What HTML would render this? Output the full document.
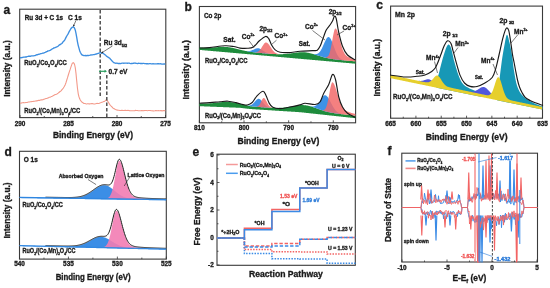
<!DOCTYPE html>
<html><head><meta charset="utf-8"><style>
html,body{margin:0;padding:0;background:#fff;}
body{width:550px;height:288px;overflow:hidden;}
svg{display:block;will-change:transform;font-family:"Liberation Sans",sans-serif;}
</style></head><body>
<svg width="550" height="288" viewBox="0 0 550 288">
<rect width="550" height="288" fill="#fff"/>
<text x="3.5" y="14" font-size="12" text-anchor="start" font-weight="bold" fill="#1a1a1a" stroke="#1a1a1a" stroke-width="0.32" >a</text>
<rect x="19.7" y="9.2" width="146.10000000000002" height="108.39999999999999" fill="none" stroke="#3a3a3a" stroke-width="1.1"/>
<line x1="20.0" y1="117.5" x2="20.0" y2="115.0" stroke="#333" stroke-width="0.8" />
<text x="20.0" y="125.8" font-size="6.4" text-anchor="middle" font-weight="bold" fill="#1a1a1a" stroke="#1a1a1a" stroke-width="0.32" >290</text>
<line x1="44.25" y1="117.5" x2="44.25" y2="116.0" stroke="#333" stroke-width="0.8" />
<line x1="68.5" y1="117.5" x2="68.5" y2="115.0" stroke="#333" stroke-width="0.8" />
<text x="68.5" y="125.8" font-size="6.4" text-anchor="middle" font-weight="bold" fill="#1a1a1a" stroke="#1a1a1a" stroke-width="0.32" >285</text>
<line x1="92.75" y1="117.5" x2="92.75" y2="116.0" stroke="#333" stroke-width="0.8" />
<line x1="117.0" y1="117.5" x2="117.0" y2="115.0" stroke="#333" stroke-width="0.8" />
<text x="117.0" y="125.8" font-size="6.4" text-anchor="middle" font-weight="bold" fill="#1a1a1a" stroke="#1a1a1a" stroke-width="0.32" >280</text>
<line x1="141.25" y1="117.5" x2="141.25" y2="116.0" stroke="#333" stroke-width="0.8" />
<line x1="165.5" y1="117.5" x2="165.5" y2="115.0" stroke="#333" stroke-width="0.8" />
<text x="165.5" y="125.8" font-size="6.4" text-anchor="middle" font-weight="bold" fill="#1a1a1a" stroke="#1a1a1a" stroke-width="0.32" >275</text>
<text x="53" y="138.2" font-size="8.4" text-anchor="start" font-weight="bold" fill="#1a1a1a" stroke="#1a1a1a" stroke-width="0.32" textLength="80" lengthAdjust="spacingAndGlyphs" >Binding Energy (eV)</text>
<text transform="translate(10.1,68.55) rotate(-90)" x="0" y="0" font-size="8.6" text-anchor="middle" font-weight="bold" fill="#1a1a1a" stroke="#1a1a1a" stroke-width="0.32" textLength="56.5" lengthAdjust="spacingAndGlyphs">Intensity (a.u.)</text>
<text x="24.8" y="19.5" font-size="6.4" text-anchor="start" font-weight="bold" fill="#1a1a1a" stroke="#1a1a1a" stroke-width="0.32" textLength="38.2" lengthAdjust="spacingAndGlyphs" >Ru 3d + C 1s</text>
<text x="68" y="19.5" font-size="6.4" text-anchor="start" font-weight="bold" fill="#1a1a1a" stroke="#1a1a1a" stroke-width="0.32" textLength="13.8" lengthAdjust="spacingAndGlyphs" >C 1s</text>
<line x1="75.8" y1="20.8" x2="73.2" y2="26.8" stroke="#222" stroke-width="0.6" />
<path d="M73.20,26.80 L73.11,24.60 L74.87,25.36 Z" stroke="none" fill="#222" stroke-width="1.0" />
<path d="M20.00,57.78 L20.43,57.74 L20.94,57.84 L21.52,57.64 L22.16,57.50 L22.86,57.41 L23.60,57.12 L24.39,57.07 L25.22,57.02 L26.08,57.01 L26.97,56.61 L27.89,56.44 L28.81,56.18 L29.75,56.29 L30.69,56.22 L31.63,55.81 L32.56,55.95 L33.47,55.93 L34.37,55.69 L35.24,55.48 L36.08,55.08 L36.88,54.74 L37.64,54.71 L38.35,54.41 L39.00,54.23 L40.04,53.96 L41.02,53.58 L41.94,53.42 L42.81,53.17 L43.64,53.06 L44.43,52.69 L45.19,52.38 L45.92,52.00 L46.62,51.72 L47.31,51.31 L47.99,50.87 L48.66,50.81 L49.33,50.62 L50.00,50.31 L50.85,49.87 L51.67,49.30 L52.45,48.80 L53.22,48.41 L53.96,47.94 L54.67,47.84 L55.37,47.46 L56.05,47.28 L56.71,46.80 L57.36,46.61 L58.00,46.26 L58.84,45.36 L59.63,44.76 L60.38,44.51 L61.09,43.91 L61.79,43.52 L62.49,42.70 L63.19,41.71 L63.90,40.98 L64.64,40.06 L65.40,38.66 L66.16,37.13 L66.92,35.75 L67.65,34.63 L68.36,33.36 L69.01,31.90 L69.60,30.84 L70.41,29.48 L71.09,28.38 L71.69,27.90 L72.24,27.26 L72.80,27.15 L73.46,27.16 L74.07,27.40 L74.66,28.53 L75.30,30.15 L76.00,33.41 L76.73,37.41 L77.47,41.80 L78.20,45.31 L78.90,47.95 L79.59,50.44 L80.29,52.28 L81.00,53.51 L81.61,54.66 L82.14,54.99 L82.86,55.25 L84.00,55.63 L84.57,55.68 L85.22,55.47 L85.94,55.75 L86.72,55.53 L87.54,55.40 L88.38,55.54 L89.24,55.36 L90.09,55.21 L90.93,54.98 L91.74,54.81 L92.50,54.88 L93.32,54.66 L94.15,54.57 L94.99,54.28 L95.82,54.02 L96.64,53.97 L97.44,53.60 L98.20,53.34 L98.92,53.25 L99.59,52.85 L100.20,52.62 L101.18,52.87 L101.91,53.07 L102.53,53.10 L103.18,53.35 L104.00,54.03 L104.64,54.63 L105.35,54.89 L106.10,55.69 L106.88,56.38 L107.65,56.93 L108.40,57.44 L109.09,57.82 L109.70,58.22 L110.52,59.33 L111.21,59.91 L111.82,60.72 L112.40,61.19 L113.00,61.90 L113.51,62.43 L113.83,62.71 L114.48,62.90 L116.00,63.31 L116.50,63.15 L117.06,63.15 L117.66,63.30 L118.31,63.52 L119.01,63.51 L119.74,63.36 L120.51,63.57 L121.30,63.34 L122.12,63.14 L122.97,63.14 L123.83,63.22 L124.70,63.07 L125.59,63.05 L126.48,63.12 L127.37,63.24 L128.25,63.10 L129.13,63.14 L130.00,63.40 L130.71,63.57 L131.43,63.51 L132.16,63.50 L132.89,63.45 L133.63,63.23 L134.38,63.08 L135.14,63.00 L135.91,63.36 L136.68,63.45 L137.45,63.62 L138.23,63.29 L139.02,63.40 L139.80,63.39 L140.60,63.51 L141.39,63.39 L142.19,63.64 L142.99,63.35 L143.79,63.43 L144.59,63.56 L145.39,63.70 L146.20,63.71 L147.00,63.70 L147.79,63.75 L148.61,63.83 L149.46,63.63 L150.33,63.69 L151.23,63.82 L152.14,63.89 L153.06,63.73 L153.99,63.82 L154.92,63.92 L155.84,63.84 L156.76,63.84 L157.66,63.74 L158.54,63.79 L159.41,63.83 L160.24,63.63 L161.04,63.79 L161.80,64.03 L162.52,64.11 L163.19,64.09 L163.81,63.94 L164.37,64.02 L164.87,64.00 L165.30,63.93" stroke="#3d8ee0" fill="none" stroke-width="1.35" stroke-linejoin="round"/>
<path d="M20.00,103.29 L20.42,103.29 L20.91,103.26 L21.46,102.99 L22.07,102.76 L22.72,102.74 L23.43,102.64 L24.18,102.75 L24.96,102.70 L25.78,102.58 L26.63,102.44 L27.50,102.35 L28.39,102.04 L29.29,101.93 L30.21,101.70 L31.12,101.81 L32.04,101.46 L32.95,101.52 L33.85,101.18 L34.73,101.19 L35.60,100.98 L36.44,100.83 L37.25,100.86 L38.02,100.48 L38.76,100.23 L39.45,100.38 L40.10,100.22 L41.08,99.83 L42.00,99.89 L42.88,99.80 L43.71,99.32 L44.51,99.10 L45.27,98.77 L46.00,98.57 L46.71,98.47 L47.41,98.12 L48.09,98.04 L48.76,97.60 L49.43,97.28 L50.11,97.23 L50.79,96.87 L51.49,96.51 L52.20,96.21 L53.04,95.77 L53.88,95.29 L54.74,94.69 L55.59,94.43 L56.45,94.15 L57.29,93.76 L58.13,93.17 L58.95,92.46 L59.75,91.79 L60.53,91.26 L61.28,90.63 L61.99,89.70 L62.67,88.88 L63.30,88.07 L64.31,86.46 L65.22,84.65 L66.04,82.46 L66.78,80.00 L67.46,77.95 L68.10,75.73 L68.71,73.74 L69.30,71.89 L70.16,69.43 L70.89,67.12 L71.52,65.31 L72.11,63.66 L72.70,62.96 L73.40,62.62 L74.02,63.30 L74.64,64.75 L75.30,67.82 L76.00,73.33 L76.71,80.88 L77.46,88.24 L78.30,94.09 L78.90,96.50 L79.51,98.31 L80.16,99.69 L80.85,100.89 L81.59,101.60 L82.40,102.51 L83.03,102.80 L83.67,103.36 L84.33,103.50 L85.02,103.53 L85.77,103.79 L86.57,103.99 L87.44,103.75 L88.40,103.76 L89.05,103.97 L89.77,103.90 L90.53,103.82 L91.34,103.67 L92.17,103.58 L93.02,103.75 L93.88,103.94 L94.73,104.01 L95.56,103.80 L96.37,103.46 L97.13,103.36 L97.85,103.45 L98.50,103.46 L99.47,103.24 L100.37,102.81 L101.21,102.56 L101.98,102.26 L102.69,102.02 L103.35,101.61 L103.95,101.56 L104.50,101.43 L105.33,100.70 L105.85,100.14 L106.30,100.08 L106.90,100.16 L107.54,101.04 L108.23,102.04 L108.97,103.33 L109.73,104.60 L110.50,105.46 L111.14,106.11 L111.78,106.73 L112.44,107.50 L113.12,108.15 L113.84,108.46 L114.60,109.10 L115.18,109.32 L115.62,109.44 L116.06,109.64 L116.60,110.02 L117.36,110.08 L118.45,110.19 L120.00,110.42 L120.51,110.52 L121.05,110.51 L121.62,110.38 L122.22,110.39 L122.85,110.53 L123.51,110.57 L124.19,110.51 L124.90,110.40 L125.64,110.36 L126.39,110.49 L127.16,110.50 L127.95,110.29 L128.76,110.47 L129.58,110.64 L130.41,110.69 L131.26,110.76 L132.11,110.80 L132.98,110.68 L133.85,110.72 L134.72,110.59 L135.60,110.41 L136.48,110.43 L137.37,110.43 L138.25,110.68 L139.13,110.72 L140.00,110.68 L140.72,110.70 L141.48,110.51 L142.27,110.59 L143.08,110.70 L143.92,110.63 L144.78,110.55 L145.65,110.57 L146.55,110.55 L147.45,110.69 L148.36,110.55 L149.29,110.46 L150.21,110.51 L151.14,110.69 L152.06,110.81 L152.99,110.83 L153.90,110.95 L154.80,110.79 L155.70,110.58 L156.57,110.66 L157.43,110.68 L158.27,110.59 L159.08,110.75 L159.87,110.69 L160.63,110.63 L161.36,110.63 L162.05,110.89 L162.70,110.64 L163.31,110.66 L163.88,110.64 L164.40,110.60 L164.88,110.67 L165.30,110.63" stroke="#f39a8a" fill="none" stroke-width="1.1" stroke-linejoin="round"/>
<text x="24.2" y="65.4" font-size="6.8" text-anchor="start" font-weight="bold" fill="#1a1a1a" stroke="#1a1a1a" stroke-width="0.32" textLength="42.6" lengthAdjust="spacingAndGlyphs" >RuO<tspan font-size="4.08" dy="1.9">2</tspan><tspan dy="-1.9">​</tspan>/Co<tspan font-size="4.08" dy="1.9">3</tspan><tspan dy="-1.9">​</tspan>O<tspan font-size="4.08" dy="1.9">4</tspan><tspan dy="-1.9">​</tspan>/CC</text>
<text x="24.2" y="112.6" font-size="6.8" text-anchor="start" font-weight="bold" fill="#1a1a1a" stroke="#1a1a1a" stroke-width="0.32" textLength="56" lengthAdjust="spacingAndGlyphs" >RuO<tspan font-size="4.08" dy="1.9">2</tspan><tspan dy="-1.9">​</tspan>/(Co,Mn)<tspan font-size="4.08" dy="1.9">3</tspan><tspan dy="-1.9">​</tspan>O<tspan font-size="4.08" dy="1.9">4</tspan><tspan dy="-1.9">​</tspan>/CC</text>
<line x1="100.2" y1="10" x2="100.2" y2="96" stroke="#444" stroke-width="1.4" stroke-dasharray="3.5,2"/>
<line x1="106.8" y1="75" x2="106.8" y2="117" stroke="#444" stroke-width="1.4" stroke-dasharray="3.5,2"/>
<text x="103.7" y="45.2" font-size="7.0" text-anchor="start" font-weight="bold" fill="#1a1a1a" stroke="#1a1a1a" stroke-width="0.32" textLength="23.5" lengthAdjust="spacingAndGlyphs" >Ru 3d<tspan font-size="4.2" dy="1.8">5/2</tspan></text>
<line x1="112.4" y1="46" x2="101.2" y2="53.2" stroke="#222" stroke-width="0.6" />
<path d="M101.20,53.20 L102.35,51.32 L103.38,52.93 Z" stroke="none" fill="#222" stroke-width="1.0" />
<line x1="99" y1="71.3" x2="106" y2="71.3" stroke="#2aa060" stroke-width="1.2"/>
<path d="M107.00,71.30 L104.50,69.80 L104.50,72.80 Z" stroke="none" fill="#2aa060" stroke-width="1.0" />
<text x="108.5" y="73.6" font-size="6.9" text-anchor="start" font-weight="bold" fill="#1a1a1a" stroke="#1a1a1a" stroke-width="0.32" textLength="19" lengthAdjust="spacingAndGlyphs" >0.7 eV</text>
<text x="184.6" y="11.2" font-size="12" text-anchor="start" font-weight="bold" fill="#1a1a1a" stroke="#1a1a1a" stroke-width="0.32" >b</text>
<rect x="199.4" y="6.5" width="156.20000000000002" height="116.3" fill="none" stroke="#3a3a3a" stroke-width="1.1"/>
<line x1="199.4" y1="122.8" x2="199.4" y2="120.3" stroke="#333" stroke-width="0.8" />
<text x="199.4" y="130.4" font-size="6.4" text-anchor="middle" font-weight="bold" fill="#1a1a1a" stroke="#1a1a1a" stroke-width="0.32" >810</text>
<line x1="244.02857142857144" y1="122.8" x2="244.02857142857144" y2="120.3" stroke="#333" stroke-width="0.8" />
<text x="244.03" y="130.4" font-size="6.4" text-anchor="middle" font-weight="bold" fill="#1a1a1a" stroke="#1a1a1a" stroke-width="0.32" >800</text>
<line x1="288.65714285714284" y1="122.8" x2="288.65714285714284" y2="120.3" stroke="#333" stroke-width="0.8" />
<text x="288.66" y="130.4" font-size="6.4" text-anchor="middle" font-weight="bold" fill="#1a1a1a" stroke="#1a1a1a" stroke-width="0.32" >790</text>
<line x1="333.28571428571433" y1="122.8" x2="333.28571428571433" y2="120.3" stroke="#333" stroke-width="0.8" />
<text x="333.29" y="130.4" font-size="6.4" text-anchor="middle" font-weight="bold" fill="#1a1a1a" stroke="#1a1a1a" stroke-width="0.32" >780</text>
<line x1="221.71428571428572" y1="122.8" x2="221.71428571428572" y2="121.3" stroke="#333" stroke-width="0.8" />
<line x1="266.34285714285716" y1="122.8" x2="266.34285714285716" y2="121.3" stroke="#333" stroke-width="0.8" />
<line x1="310.9714285714286" y1="122.8" x2="310.9714285714286" y2="121.3" stroke="#333" stroke-width="0.8" />
<text x="237.5" y="143.5" font-size="8.5" text-anchor="start" font-weight="bold" fill="#1a1a1a" stroke="#1a1a1a" stroke-width="0.32" textLength="81.8" lengthAdjust="spacingAndGlyphs" >Binding Energy (eV)</text>
<text transform="translate(189.3,69.8) rotate(-90)" x="0" y="0" font-size="8.8" text-anchor="middle" font-weight="bold" fill="#1a1a1a" stroke="#1a1a1a" stroke-width="0.32" textLength="59.4" lengthAdjust="spacingAndGlyphs">Intensity (a.u.)</text>
<text x="203.9" y="17.8" font-size="7.2" text-anchor="start" font-weight="bold" fill="#1a1a1a" stroke="#1a1a1a" stroke-width="0.32" textLength="17.6" lengthAdjust="spacingAndGlyphs" >Co 2p</text>
<path d="M199.40,49.90 L199.90,49.94 L200.40,49.98 L200.90,50.02 L201.40,50.07 L201.90,50.11 L202.40,50.16 L202.90,50.20 L203.40,50.24 L203.90,50.29 L204.40,50.33 L204.90,50.38 L205.40,50.42 L205.90,50.47 L206.40,50.51 L206.90,50.55 L207.40,50.60 L207.90,50.64 L208.40,50.69 L208.90,50.73 L209.40,50.78 L209.90,50.82 L210.40,50.86 L210.90,50.91 L211.40,50.95 L211.90,51.00 L212.40,51.04 L212.90,51.09 L213.40,51.13 L213.90,51.17 L214.40,51.22 L214.90,51.26 L215.40,51.31 L215.90,51.35 L216.40,51.39 L216.90,51.44 L217.40,51.48 L217.90,51.53 L218.40,51.57 L218.90,51.62 L219.40,51.66 L219.90,51.70 L220.40,51.75 L220.90,51.79 L221.40,51.84 L221.90,51.88 L222.40,51.93 L222.90,51.97 L223.40,52.01 L223.90,52.06 L224.40,52.10 L224.90,52.15 L225.40,52.19 L225.90,52.24 L226.40,52.28 L226.90,52.32 L227.40,52.37 L227.90,52.41 L228.40,52.46 L228.90,52.50 L229.40,52.55 L229.90,52.59 L230.40,52.63 L230.90,52.68 L231.40,52.72 L231.90,52.77 L232.40,52.81 L232.90,52.85 L233.40,52.90 L233.90,52.94 L234.40,52.99 L234.90,53.03 L235.40,53.08 L235.90,53.12 L236.40,53.16 L236.90,53.21 L237.40,53.25 L237.90,53.30 L238.40,53.34 L238.90,53.39 L239.40,53.43 L239.90,53.47 L240.40,53.52 L240.90,53.56 L241.40,53.61 L241.90,53.65 L242.40,53.70 L242.90,53.74 L243.40,53.78 L243.90,53.83 L244.40,53.87 L244.90,53.92 L245.40,53.96 L245.90,54.00 L246.40,54.05 L246.90,54.09 L247.40,54.14 L247.90,54.18 L248.40,54.23 L248.90,54.27 L249.40,54.31 L249.90,54.36 L250.40,54.40 L250.90,54.45 L251.40,54.49 L251.90,54.54 L252.40,54.58 L252.90,54.62 L253.40,54.67 L253.90,54.71 L254.40,54.76 L254.90,54.80 L255.40,54.84 L255.90,54.89 L256.40,54.93 L256.90,54.98 L257.40,55.02 L257.90,55.07 L258.40,55.11 L258.90,55.15 L259.40,55.20 L259.90,55.24 L260.40,55.29 L260.90,55.33 L261.40,55.38 L261.90,55.42 L262.40,55.46 L262.90,55.51 L263.40,55.55 L263.90,55.60 L264.40,55.64 L264.90,55.69 L265.40,55.73 L265.90,55.77 L266.40,55.82 L266.90,55.86 L267.40,55.91 L267.90,55.95 L268.40,55.99 L268.90,56.04 L269.40,56.08 L269.90,56.13 L270.40,56.17 L270.90,56.22 L271.40,56.26 L271.90,56.30 L272.40,56.35 L272.90,56.39 L273.40,56.44 L273.90,56.48 L274.40,56.53 L274.90,56.57 L275.40,56.61 L275.90,56.66 L276.40,56.70 L276.90,56.75 L277.40,56.79 L277.90,56.84 L278.40,56.88 L278.90,56.92 L279.40,56.97 L279.90,57.01 L280.40,57.06 L280.90,57.10 L281.40,57.14 L281.90,57.19 L282.40,57.23 L282.90,57.28 L283.40,57.32 L283.90,57.37 L284.40,57.41 L284.90,57.45 L285.40,57.50 L285.90,57.54 L286.40,57.59 L286.90,57.63 L287.40,57.68 L287.90,57.72 L288.40,57.76 L288.90,57.81 L289.40,57.85 L289.90,57.90 L290.40,57.94 L290.90,57.99 L291.40,58.03 L291.90,58.07 L292.40,58.12 L292.90,58.16 L293.40,58.21 L293.90,58.25 L294.40,58.30 L294.90,58.34 L295.40,58.38 L295.90,58.43 L296.40,58.47 L296.90,58.52 L297.40,58.56 L297.90,58.60 L298.40,58.65 L298.90,58.69 L299.40,58.74 L299.90,58.78 L300.40,58.83 L300.90,58.87 L301.40,58.91 L301.90,58.96 L302.40,59.00 L302.90,59.05 L303.40,59.09 L303.90,59.14 L304.40,59.18 L304.90,59.22 L305.40,59.27 L305.90,59.31 L306.40,59.36 L306.90,59.40 L307.40,59.45 L307.90,59.49 L308.40,59.53 L308.90,59.58 L309.40,59.62 L309.90,59.67 L310.40,59.71 L310.90,59.75 L311.40,59.80 L311.90,59.84 L312.40,59.89 L312.90,59.93 L313.40,59.98 L313.90,60.02 L314.40,60.06 L314.90,60.11 L315.40,60.15 L315.90,60.20 L316.40,60.24 L316.90,60.29 L317.40,60.33 L317.90,60.37 L318.40,60.42 L318.90,60.46 L319.40,60.51 L319.90,60.55 L320.40,60.59 L320.90,60.64 L321.40,60.68 L321.90,60.73 L322.40,60.77 L322.90,60.82 L323.40,60.86 L323.90,60.90 L324.40,60.95 L324.90,60.99 L325.40,61.04 L325.90,61.08 L326.40,61.13 L326.90,61.17 L327.40,61.21 L327.90,61.26 L328.40,61.30 L328.90,61.35 L329.40,61.39 L329.90,61.44 L330.40,61.48 L330.90,61.52 L331.40,61.57 L331.90,61.61 L332.40,61.66 L332.90,61.70 L333.40,61.74 L333.90,61.79 L334.40,61.83 L334.90,61.88 L335.40,61.92 L335.90,61.97 L336.40,62.01 L336.90,62.05 L337.40,62.10 L337.90,62.14 L338.40,62.19 L338.90,62.23 L339.40,62.28 L339.90,62.32 L340.40,62.36 L340.90,62.41 L341.40,62.45 L341.90,62.50 L342.40,62.54 L342.90,62.59 L343.40,62.63 L343.90,62.67 L344.40,62.72 L344.90,62.76 L345.40,62.81 L345.90,62.85 L346.40,62.89 L346.90,62.94 L347.40,62.98 L347.90,63.03 L348.40,63.07 L348.90,63.12 L349.40,63.16 L349.90,63.20 L350.40,63.25 L350.90,63.29 L351.40,63.34 L351.90,63.38 L352.40,63.43 L352.90,63.47 L353.40,63.51 L353.90,63.56 L354.40,63.60 L354.90,63.65 L355.40,63.69 L355.40,61.39 L354.90,61.35 L354.40,61.30 L353.90,61.26 L353.40,61.21 L352.90,61.17 L352.40,61.12 L351.90,61.08 L351.40,61.03 L350.90,60.99 L350.40,60.95 L349.90,60.90 L349.40,60.86 L348.90,60.81 L348.40,60.77 L347.90,60.72 L347.40,60.67 L346.90,60.63 L346.40,60.58 L345.90,60.54 L345.40,60.49 L344.90,60.44 L344.40,60.40 L343.90,60.35 L343.40,60.30 L342.90,60.25 L342.40,60.21 L341.90,60.16 L341.40,60.11 L340.90,60.06 L340.40,60.00 L339.90,59.95 L339.40,59.90 L338.90,59.85 L338.40,59.79 L337.90,59.74 L337.40,59.68 L336.90,59.62 L336.40,59.56 L335.90,59.50 L335.40,59.44 L334.90,59.37 L334.40,59.30 L333.90,59.24 L333.40,59.17 L332.90,59.09 L332.40,59.02 L331.90,58.94 L331.40,58.86 L330.90,58.78 L330.40,58.69 L329.90,58.60 L329.40,58.51 L328.90,58.41 L328.40,58.32 L327.90,58.21 L327.40,58.11 L326.90,58.00 L326.40,57.89 L325.90,57.77 L325.40,57.65 L324.90,57.53 L324.40,57.40 L323.90,57.27 L323.40,57.14 L322.90,57.00 L322.40,56.86 L321.90,56.72 L321.40,56.58 L320.90,56.43 L320.40,56.28 L319.90,56.12 L319.40,55.97 L318.90,55.81 L318.40,55.65 L317.90,55.49 L317.40,55.33 L316.90,55.17 L316.40,55.01 L315.90,54.85 L315.40,54.69 L314.90,54.54 L314.40,54.38 L313.90,54.23 L313.40,54.08 L312.90,53.93 L312.40,53.78 L311.90,53.64 L311.40,53.51 L310.90,53.38 L310.40,53.25 L309.90,53.13 L309.40,53.02 L308.90,52.91 L308.40,52.81 L307.90,52.72 L307.40,52.64 L306.90,52.56 L306.40,52.49 L305.90,52.43 L305.40,52.37 L304.90,52.32 L304.40,52.29 L303.90,52.25 L303.40,52.23 L302.90,52.22 L302.40,52.21 L301.90,52.21 L301.40,52.22 L300.90,52.23 L300.40,52.25 L299.90,52.28 L299.40,52.31 L298.90,52.35 L298.40,52.39 L297.90,52.44 L297.40,52.50 L296.90,52.55 L296.40,52.61 L295.90,52.68 L295.40,52.74 L294.90,52.81 L294.40,52.88 L293.90,52.95 L293.40,53.02 L292.90,53.10 L292.40,53.17 L291.90,53.24 L291.40,53.31 L290.90,53.38 L290.40,53.45 L289.90,53.51 L289.40,53.58 L288.90,53.64 L288.40,53.70 L287.90,53.75 L287.40,53.81 L286.90,53.86 L286.40,53.90 L285.90,53.95 L285.40,53.99 L284.90,54.02 L284.40,54.06 L283.90,54.09 L283.40,54.11 L282.90,54.13 L282.40,54.15 L281.90,54.17 L281.40,54.18 L280.90,54.19 L280.40,54.19 L279.90,54.20 L279.40,54.20 L278.90,54.19 L278.40,54.19 L277.90,54.18 L277.40,54.16 L276.90,54.15 L276.40,54.13 L275.90,54.12 L275.40,54.09 L274.90,54.07 L274.40,54.05 L273.90,54.02 L273.40,53.99 L272.90,53.96 L272.40,53.93 L271.90,53.90 L271.40,53.87 L270.90,53.83 L270.40,53.80 L269.90,53.76 L269.40,53.73 L268.90,53.69 L268.40,53.65 L267.90,53.61 L267.40,53.57 L266.90,53.53 L266.40,53.49 L265.90,53.45 L265.40,53.40 L264.90,53.36 L264.40,53.32 L263.90,53.27 L263.40,53.23 L262.90,53.18 L262.40,53.14 L261.90,53.09 L261.40,53.05 L260.90,53.00 L260.40,52.95 L259.90,52.90 L259.40,52.86 L258.90,52.81 L258.40,52.76 L257.90,52.71 L257.40,52.65 L256.90,52.60 L256.40,52.55 L255.90,52.49 L255.40,52.44 L254.90,52.38 L254.40,52.32 L253.90,52.26 L253.40,52.20 L252.90,52.14 L252.40,52.07 L251.90,52.00 L251.40,51.93 L250.90,51.86 L250.40,51.79 L249.90,51.71 L249.40,51.64 L248.90,51.56 L248.40,51.47 L247.90,51.39 L247.40,51.30 L246.90,51.21 L246.40,51.12 L245.90,51.02 L245.40,50.92 L244.90,50.82 L244.40,50.71 L243.90,50.61 L243.40,50.50 L242.90,50.38 L242.40,50.27 L241.90,50.15 L241.40,50.03 L240.90,49.91 L240.40,49.79 L239.90,49.67 L239.40,49.54 L238.90,49.41 L238.40,49.29 L237.90,49.16 L237.40,49.03 L236.90,48.91 L236.40,48.78 L235.90,48.66 L235.40,48.53 L234.90,48.41 L234.40,48.29 L233.90,48.18 L233.40,48.07 L232.90,47.96 L232.40,47.85 L231.90,47.75 L231.40,47.65 L230.90,47.56 L230.40,47.47 L229.90,47.39 L229.40,47.32 L228.90,47.25 L228.40,47.18 L227.90,47.12 L227.40,47.07 L226.90,47.02 L226.40,46.98 L225.90,46.95 L225.40,46.92 L224.90,46.90 L224.40,46.89 L223.90,46.88 L223.40,46.87 L222.90,46.87 L222.40,46.88 L221.90,46.89 L221.40,46.90 L220.90,46.92 L220.40,46.94 L219.90,46.97 L219.40,47.00 L218.90,47.03 L218.40,47.06 L217.90,47.10 L217.40,47.13 L216.90,47.17 L216.40,47.21 L215.90,47.25 L215.40,47.29 L214.90,47.32 L214.40,47.36 L213.90,47.40 L213.40,47.43 L212.90,47.47 L212.40,47.50 L211.90,47.53 L211.40,47.56 L210.90,47.58 L210.40,47.60 L209.90,47.62 L209.40,47.64 L208.90,47.66 L208.40,47.67 L207.90,47.68 L207.40,47.69 L206.90,47.69 L206.40,47.69 L205.90,47.69 L205.40,47.69 L204.90,47.68 L204.40,47.67 L203.90,47.66 L203.40,47.64 L202.90,47.63 L202.40,47.61 L201.90,47.59 L201.40,47.57 L200.90,47.54 L200.40,47.52 L199.90,47.49 L199.40,47.47 Z" stroke="none" fill="#1e8c3c" stroke-width="1.0" />
<path d="M246.90,51.02 L247.40,51.05 L247.90,51.06 L248.40,51.05 L248.90,51.02 L249.40,50.97 L249.90,50.89 L250.40,50.79 L250.90,50.66 L251.40,50.50 L251.90,50.31 L252.40,50.11 L252.90,49.89 L253.40,49.65 L253.90,49.41 L254.40,49.17 L254.90,48.94 L255.40,48.73 L255.90,48.54 L256.40,48.39 L256.90,48.29 L257.40,48.22 L257.90,48.22 L258.40,48.26 L258.90,48.36 L259.40,48.51 L259.90,48.71 L260.40,48.96 L260.90,49.24 L261.40,49.55 L261.90,49.88 L262.40,50.23 L262.90,50.58 L263.40,50.92 L263.90,51.26 L264.40,51.58 L264.90,51.87 L265.40,52.15 L265.90,52.40 L266.40,52.63 L266.90,52.83 L267.40,53.01 L267.90,53.17 L268.40,53.30 L268.90,53.42 L269.40,53.52 L269.90,53.61 L269.90,53.76 L269.40,53.73 L268.90,53.69 L268.40,53.65 L267.90,53.61 L267.40,53.57 L266.90,53.53 L266.40,53.49 L265.90,53.45 L265.40,53.40 L264.90,53.36 L264.40,53.32 L263.90,53.27 L263.40,53.23 L262.90,53.18 L262.40,53.14 L261.90,53.09 L261.40,53.05 L260.90,53.00 L260.40,52.95 L259.90,52.90 L259.40,52.86 L258.90,52.81 L258.40,52.76 L257.90,52.71 L257.40,52.65 L256.90,52.60 L256.40,52.55 L255.90,52.49 L255.40,52.44 L254.90,52.38 L254.40,52.32 L253.90,52.26 L253.40,52.20 L252.90,52.14 L252.40,52.07 L251.90,52.00 L251.40,51.93 L250.90,51.86 L250.40,51.79 L249.90,51.71 L249.40,51.64 L248.90,51.56 L248.40,51.47 L247.90,51.39 L247.40,51.30 L246.90,51.21 Z" stroke="none" fill="#3f92e6" stroke-width="1.0" fill-opacity="1.0"/>
<path d="M313.40,53.88 L313.90,53.97 L314.40,54.03 L314.90,54.08 L315.40,54.09 L315.90,54.07 L316.40,54.00 L316.90,53.89 L317.40,53.71 L317.90,53.47 L318.40,53.15 L318.90,52.75 L319.40,52.26 L319.90,51.68 L320.40,50.99 L320.90,50.22 L321.40,49.35 L321.90,48.39 L322.40,47.36 L322.90,46.26 L323.40,45.12 L323.90,43.97 L324.40,42.81 L324.90,41.69 L325.40,40.64 L325.90,39.67 L326.40,38.82 L326.90,38.11 L327.40,37.57 L327.90,37.22 L328.40,37.07 L328.90,37.12 L329.40,37.39 L329.90,37.86 L330.40,38.52 L330.90,39.36 L331.40,40.35 L331.90,41.47 L332.40,42.70 L332.90,44.00 L333.40,45.34 L333.90,46.70 L334.40,48.06 L334.90,49.37 L335.40,50.64 L335.90,51.84 L336.40,52.95 L336.90,53.98 L337.40,54.91 L337.90,55.74 L338.40,56.48 L338.90,57.13 L339.40,57.70 L339.90,58.18 L340.40,58.59 L340.90,58.94 L341.40,59.24 L341.90,59.49 L342.40,59.69 L342.90,59.87 L343.40,60.01 L343.90,60.13 L344.40,60.24 L344.40,60.40 L343.90,60.35 L343.40,60.30 L342.90,60.25 L342.40,60.21 L341.90,60.16 L341.40,60.11 L340.90,60.06 L340.40,60.00 L339.90,59.95 L339.40,59.90 L338.90,59.85 L338.40,59.79 L337.90,59.74 L337.40,59.68 L336.90,59.62 L336.40,59.56 L335.90,59.50 L335.40,59.44 L334.90,59.37 L334.40,59.30 L333.90,59.24 L333.40,59.17 L332.90,59.09 L332.40,59.02 L331.90,58.94 L331.40,58.86 L330.90,58.78 L330.40,58.69 L329.90,58.60 L329.40,58.51 L328.90,58.41 L328.40,58.32 L327.90,58.21 L327.40,58.11 L326.90,58.00 L326.40,57.89 L325.90,57.77 L325.40,57.65 L324.90,57.53 L324.40,57.40 L323.90,57.27 L323.40,57.14 L322.90,57.00 L322.40,56.86 L321.90,56.72 L321.40,56.58 L320.90,56.43 L320.40,56.28 L319.90,56.12 L319.40,55.97 L318.90,55.81 L318.40,55.65 L317.90,55.49 L317.40,55.33 L316.90,55.17 L316.40,55.01 L315.90,54.85 L315.40,54.69 L314.90,54.54 L314.40,54.38 L313.90,54.23 L313.40,54.08 Z" stroke="none" fill="#3f92e6" stroke-width="1.0" fill-opacity="1.0"/>
<path d="M255.40,52.23 L255.90,52.19 L256.40,52.12 L256.90,52.01 L257.40,51.85 L257.90,51.63 L258.40,51.35 L258.90,50.98 L259.40,50.53 L259.90,50.00 L260.40,49.38 L260.90,48.69 L261.40,47.93 L261.90,47.12 L262.40,46.29 L262.90,45.47 L263.40,44.68 L263.90,43.97 L264.40,43.36 L264.90,42.90 L265.40,42.59 L265.90,42.46 L266.40,42.51 L266.90,42.70 L267.40,43.02 L267.90,43.45 L268.40,44.00 L268.90,44.62 L269.40,45.32 L269.90,46.06 L270.40,46.83 L270.90,47.61 L271.40,48.37 L271.90,49.11 L272.40,49.80 L272.90,50.45 L273.40,51.04 L273.90,51.57 L274.40,52.04 L274.90,52.45 L275.40,52.79 L275.90,53.09 L276.40,53.33 L276.90,53.53 L277.40,53.69 L277.90,53.82 L278.40,53.92 L278.90,54.00 L278.90,54.19 L278.40,54.19 L277.90,54.18 L277.40,54.16 L276.90,54.15 L276.40,54.13 L275.90,54.12 L275.40,54.09 L274.90,54.07 L274.40,54.05 L273.90,54.02 L273.40,53.99 L272.90,53.96 L272.40,53.93 L271.90,53.90 L271.40,53.87 L270.90,53.83 L270.40,53.80 L269.90,53.76 L269.40,53.73 L268.90,53.69 L268.40,53.65 L267.90,53.61 L267.40,53.57 L266.90,53.53 L266.40,53.49 L265.90,53.45 L265.40,53.40 L264.90,53.36 L264.40,53.32 L263.90,53.27 L263.40,53.23 L262.90,53.18 L262.40,53.14 L261.90,53.09 L261.40,53.05 L260.90,53.00 L260.40,52.95 L259.90,52.90 L259.40,52.86 L258.90,52.81 L258.40,52.76 L257.90,52.71 L257.40,52.65 L256.90,52.60 L256.40,52.55 L255.90,52.49 L255.40,52.44 Z" stroke="none" fill="#f26a6a" stroke-width="1.0" fill-opacity="0.85"/>
<path d="M325.40,57.44 L325.90,57.43 L326.40,57.34 L326.90,57.16 L327.40,56.85 L327.90,56.37 L328.40,55.67 L328.90,54.72 L329.40,53.47 L329.90,51.90 L330.40,49.98 L330.90,47.74 L331.40,45.22 L331.90,42.48 L332.40,39.63 L332.90,36.81 L333.40,34.17 L333.90,31.88 L334.40,30.08 L334.90,28.91 L335.40,28.45 L335.90,28.62 L336.40,29.17 L336.90,30.07 L337.40,31.29 L337.90,32.78 L338.40,34.47 L338.90,36.31 L339.40,38.24 L339.90,40.19 L340.40,42.12 L340.90,43.98 L341.40,45.73 L341.90,47.35 L342.40,48.82 L342.90,50.14 L343.40,51.31 L343.90,52.33 L344.40,53.22 L344.90,53.98 L345.40,54.64 L345.90,55.20 L346.40,55.69 L346.90,56.12 L347.40,56.49 L347.90,56.81 L348.40,57.10 L348.90,57.36 L349.40,57.60 L349.90,57.82 L350.40,58.03 L350.90,58.22 L351.40,58.39 L351.90,58.56 L352.40,58.72 L352.90,58.88 L353.40,59.02 L353.90,59.16 L354.40,59.30 L354.90,59.42 L355.40,59.55 L355.40,61.39 L354.90,61.35 L354.40,61.30 L353.90,61.26 L353.40,61.21 L352.90,61.17 L352.40,61.12 L351.90,61.08 L351.40,61.03 L350.90,60.99 L350.40,60.95 L349.90,60.90 L349.40,60.86 L348.90,60.81 L348.40,60.77 L347.90,60.72 L347.40,60.67 L346.90,60.63 L346.40,60.58 L345.90,60.54 L345.40,60.49 L344.90,60.44 L344.40,60.40 L343.90,60.35 L343.40,60.30 L342.90,60.25 L342.40,60.21 L341.90,60.16 L341.40,60.11 L340.90,60.06 L340.40,60.00 L339.90,59.95 L339.40,59.90 L338.90,59.85 L338.40,59.79 L337.90,59.74 L337.40,59.68 L336.90,59.62 L336.40,59.56 L335.90,59.50 L335.40,59.44 L334.90,59.37 L334.40,59.30 L333.90,59.24 L333.40,59.17 L332.90,59.09 L332.40,59.02 L331.90,58.94 L331.40,58.86 L330.90,58.78 L330.40,58.69 L329.90,58.60 L329.40,58.51 L328.90,58.41 L328.40,58.32 L327.90,58.21 L327.40,58.11 L326.90,58.00 L326.40,57.89 L325.90,57.77 L325.40,57.65 Z" stroke="none" fill="#f26a6a" stroke-width="1.0" fill-opacity="0.85"/>
<path d="M199.50,48.00 C201.15,47.93 205.15,47.97 209.40,47.60 C213.65,47.23 220.95,45.98 225.00,45.80 C229.05,45.62 231.20,46.12 233.70,46.50 C236.20,46.88 237.73,47.80 240.00,48.10 C242.27,48.40 245.07,48.50 247.30,48.30 C249.53,48.10 251.38,48.15 253.40,46.90 C255.42,45.65 257.38,42.53 259.40,40.80 C261.42,39.07 263.97,36.90 265.50,36.50 C267.03,36.10 267.58,36.98 268.60,38.40 C269.62,39.82 270.50,43.08 271.60,45.00 C272.70,46.92 273.78,48.68 275.20,49.90 C276.62,51.12 277.87,51.85 280.10,52.30 C282.33,52.75 285.28,52.77 288.60,52.60 C291.92,52.43 296.02,51.63 300.00,51.30 C303.98,50.97 309.62,50.78 312.50,50.60 C315.38,50.42 316.02,50.97 317.30,50.20 C318.58,49.43 319.33,47.70 320.20,46.00 C321.07,44.30 321.49,42.67 322.50,40.00 C323.51,37.33 325.00,32.50 326.25,30.00 C327.50,27.50 328.96,26.50 330.00,25.00 C331.04,23.50 331.75,22.46 332.50,21.00 C333.25,19.54 333.88,16.62 334.50,16.25 C335.12,15.88 335.54,16.04 336.25,18.75 C336.96,21.46 337.71,27.92 338.75,32.50 C339.79,37.08 341.04,42.50 342.50,46.25 C343.96,50.00 345.33,52.71 347.50,55.00 C349.67,57.29 354.17,59.17 355.50,60.00" stroke="#1a1a1a" fill="none" stroke-width="1.15" />
<text x="205" y="63" font-size="6.4" text-anchor="start" font-weight="bold" fill="#1a1a1a" stroke="#1a1a1a" stroke-width="0.32" textLength="42.6" lengthAdjust="spacingAndGlyphs" >RuO<tspan font-size="3.84" dy="1.79">2</tspan><tspan dy="-1.79">​</tspan>/Co<tspan font-size="3.84" dy="1.79">3</tspan><tspan dy="-1.79">​</tspan>O<tspan font-size="3.84" dy="1.79">4</tspan><tspan dy="-1.79">​</tspan>/CC</text>
<text x="223.3" y="42.2" font-size="6.5" text-anchor="start" font-weight="bold" fill="#1a1a1a" stroke="#1a1a1a" stroke-width="0.32" textLength="12.2" lengthAdjust="spacingAndGlyphs" >Sat.</text>
<text x="241.8" y="38.6" font-size="6.5" text-anchor="start" font-weight="bold" fill="#1a1a1a" stroke="#1a1a1a" stroke-width="0.32" >Co<tspan font-size="3.8" dy="-2.6">2+</tspan></text>
<text x="259.4" y="31" font-size="6.5" text-anchor="start" font-weight="bold" fill="#1a1a1a" stroke="#1a1a1a" stroke-width="0.32" >2p<tspan font-size="3.8" dy="0.9">1/2</tspan></text>
<line x1="249.1" y1="40.8" x2="254" y2="47.5" stroke="#222" stroke-width="0.6" />
<text x="298.75" y="46.2" font-size="6.5" text-anchor="start" font-weight="bold" fill="#1a1a1a" stroke="#1a1a1a" stroke-width="0.32" textLength="11.5" lengthAdjust="spacingAndGlyphs" >Sat.</text>
<text x="305" y="28.8" font-size="6.5" text-anchor="start" font-weight="bold" fill="#1a1a1a" stroke="#1a1a1a" stroke-width="0.32" >Co<tspan font-size="3.8" dy="-2.6">2+</tspan></text>
<line x1="312.5" y1="30.5" x2="325" y2="40" stroke="#222" stroke-width="0.6" />
<text x="342.5" y="29.9" font-size="6.5" text-anchor="start" font-weight="bold" fill="#1a1a1a" stroke="#1a1a1a" stroke-width="0.32" >Co<tspan font-size="3.8" dy="-2.6">3+</tspan></text>
<line x1="344" y1="31" x2="337" y2="35" stroke="#222" stroke-width="0.6" />
<text x="274.6" y="38.4" font-size="6.5" text-anchor="start" font-weight="bold" fill="#1a1a1a" stroke="#1a1a1a" stroke-width="0.32" >Co<tspan font-size="3.8" dy="-2.6">3+</tspan></text>
<line x1="276.5" y1="40.2" x2="271" y2="45" stroke="#222" stroke-width="0.6" />
<text x="328.75" y="13.8" font-size="6.5" text-anchor="start" font-weight="bold" fill="#1a1a1a" stroke="#1a1a1a" stroke-width="0.32" >2p<tspan font-size="3.8" dy="0.9">3/2</tspan></text>
<path d="M199.40,106.20 L199.90,106.22 L200.40,106.24 L200.90,106.26 L201.40,106.28 L201.90,106.29 L202.40,106.31 L202.90,106.33 L203.40,106.35 L203.90,106.37 L204.40,106.39 L204.90,106.41 L205.40,106.43 L205.90,106.45 L206.40,106.47 L206.90,106.49 L207.40,106.51 L207.90,106.53 L208.40,106.55 L208.90,106.57 L209.40,106.59 L209.90,106.61 L210.40,106.63 L210.90,106.65 L211.40,106.67 L211.90,106.69 L212.40,106.71 L212.90,106.73 L213.40,106.75 L213.90,106.77 L214.40,106.79 L214.90,106.81 L215.40,106.83 L215.90,106.85 L216.40,106.87 L216.90,106.89 L217.40,106.91 L217.90,106.93 L218.40,106.95 L218.90,106.97 L219.40,106.99 L219.90,107.01 L220.40,107.03 L220.90,107.05 L221.40,107.07 L221.90,107.08 L222.40,107.10 L222.90,107.12 L223.40,107.14 L223.90,107.16 L224.40,107.18 L224.90,107.20 L225.40,107.22 L225.90,107.24 L226.40,107.26 L226.90,107.28 L227.40,107.30 L227.90,107.32 L228.40,107.34 L228.90,107.36 L229.40,107.38 L229.90,107.40 L230.40,107.42 L230.90,107.44 L231.40,107.46 L231.90,107.48 L232.40,107.50 L232.90,107.52 L233.40,107.54 L233.90,107.56 L234.40,107.58 L234.90,107.60 L235.40,107.62 L235.90,107.64 L236.40,107.66 L236.90,107.68 L237.40,107.70 L237.90,107.72 L238.40,107.74 L238.90,107.76 L239.40,107.78 L239.90,107.80 L240.40,107.85 L240.90,107.91 L241.40,107.97 L241.90,108.03 L242.40,108.09 L242.90,108.15 L243.40,108.21 L243.90,108.27 L244.40,108.33 L244.90,108.39 L245.40,108.45 L245.90,108.51 L246.40,108.57 L246.90,108.63 L247.40,108.69 L247.90,108.75 L248.40,108.81 L248.90,108.87 L249.40,108.93 L249.90,108.99 L250.40,109.03 L250.90,109.06 L251.40,109.09 L251.90,109.12 L252.40,109.15 L252.90,109.19 L253.40,109.22 L253.90,109.25 L254.40,109.28 L254.90,109.31 L255.40,109.35 L255.90,109.38 L256.40,109.41 L256.90,109.44 L257.40,109.47 L257.90,109.51 L258.40,109.54 L258.90,109.57 L259.40,109.60 L259.90,109.63 L260.40,109.67 L260.90,109.70 L261.40,109.73 L261.90,109.76 L262.40,109.79 L262.90,109.83 L263.40,109.86 L263.90,109.89 L264.40,109.92 L264.90,109.95 L265.40,109.99 L265.90,110.02 L266.40,110.05 L266.90,110.08 L267.40,110.11 L267.90,110.15 L268.40,110.18 L268.90,110.21 L269.40,110.24 L269.90,110.27 L270.40,110.31 L270.90,110.34 L271.40,110.37 L271.90,110.40 L272.40,110.43 L272.90,110.47 L273.40,110.50 L273.90,110.53 L274.40,110.56 L274.90,110.59 L275.40,110.63 L275.90,110.66 L276.40,110.69 L276.90,110.72 L277.40,110.75 L277.90,110.79 L278.40,110.82 L278.90,110.85 L279.40,110.88 L279.90,110.91 L280.40,110.95 L280.90,110.98 L281.40,111.01 L281.90,111.04 L282.40,111.07 L282.90,111.11 L283.40,111.14 L283.90,111.17 L284.40,111.20 L284.90,111.23 L285.40,111.27 L285.90,111.30 L286.40,111.33 L286.90,111.36 L287.40,111.39 L287.90,111.43 L288.40,111.46 L288.90,111.49 L289.40,111.52 L289.90,111.55 L290.40,111.59 L290.90,111.62 L291.40,111.65 L291.90,111.68 L292.40,111.71 L292.90,111.75 L293.40,111.78 L293.90,111.81 L294.40,111.84 L294.90,111.87 L295.40,111.91 L295.90,111.94 L296.40,111.97 L296.90,112.00 L297.40,112.03 L297.90,112.07 L298.40,112.10 L298.90,112.13 L299.40,112.16 L299.90,112.19 L300.40,112.24 L300.90,112.30 L301.40,112.35 L301.90,112.41 L302.40,112.46 L302.90,112.51 L303.40,112.57 L303.90,112.62 L304.40,112.68 L304.90,112.73 L305.40,112.78 L305.90,112.84 L306.40,112.89 L306.90,112.95 L307.40,113.00 L307.90,113.05 L308.40,113.11 L308.90,113.16 L309.40,113.22 L309.90,113.27 L310.40,113.32 L310.90,113.38 L311.40,113.43 L311.90,113.49 L312.40,113.54 L312.90,113.59 L313.40,113.65 L313.90,113.70 L314.40,113.76 L314.90,113.81 L315.40,113.86 L315.90,113.92 L316.40,113.97 L316.90,114.03 L317.40,114.08 L317.90,114.14 L318.40,114.19 L318.90,114.24 L319.40,114.30 L319.90,114.35 L320.40,114.41 L320.90,114.46 L321.40,114.51 L321.90,114.57 L322.40,114.62 L322.90,114.68 L323.40,114.73 L323.90,114.78 L324.40,114.84 L324.90,114.89 L325.40,114.95 L325.90,115.00 L326.40,115.05 L326.90,115.11 L327.40,115.16 L327.90,115.22 L328.40,115.27 L328.90,115.32 L329.40,115.38 L329.90,115.43 L330.40,115.49 L330.90,115.54 L331.40,115.59 L331.90,115.65 L332.40,115.70 L332.90,115.76 L333.40,115.81 L333.90,115.86 L334.40,115.92 L334.90,115.97 L335.40,116.03 L335.90,116.08 L336.40,116.14 L336.90,116.19 L337.40,116.24 L337.90,116.30 L338.40,116.35 L338.90,116.41 L339.40,116.46 L339.90,116.51 L340.40,116.57 L340.90,116.62 L341.40,116.68 L341.90,116.73 L342.40,116.78 L342.90,116.84 L343.40,116.89 L343.90,116.95 L344.40,117.00 L344.90,117.05 L345.40,117.11 L345.90,117.16 L346.40,117.22 L346.90,117.27 L347.40,117.32 L347.90,117.38 L348.40,117.43 L348.90,117.49 L349.40,117.54 L349.90,117.59 L350.40,117.65 L350.90,117.70 L351.40,117.76 L351.90,117.81 L352.40,117.86 L352.90,117.92 L353.40,117.97 L353.90,118.03 L354.40,118.08 L354.90,118.14 L355.40,118.19 L355.40,115.69 L354.90,115.63 L354.40,115.58 L353.90,115.53 L353.40,115.47 L352.90,115.42 L352.40,115.36 L351.90,115.31 L351.40,115.25 L350.90,115.20 L350.40,115.14 L349.90,115.09 L349.40,115.04 L348.90,114.98 L348.40,114.93 L347.90,114.87 L347.40,114.81 L346.90,114.76 L346.40,114.70 L345.90,114.65 L345.40,114.59 L344.90,114.53 L344.40,114.48 L343.90,114.42 L343.40,114.36 L342.90,114.30 L342.40,114.24 L341.90,114.19 L341.40,114.13 L340.90,114.06 L340.40,114.00 L339.90,113.94 L339.40,113.88 L338.90,113.81 L338.40,113.75 L337.90,113.68 L337.40,113.61 L336.90,113.54 L336.40,113.47 L335.90,113.40 L335.40,113.33 L334.90,113.25 L334.40,113.17 L333.90,113.09 L333.40,113.01 L332.90,112.92 L332.40,112.83 L331.90,112.74 L331.40,112.65 L330.90,112.55 L330.40,112.45 L329.90,112.35 L329.40,112.25 L328.90,112.14 L328.40,112.02 L327.90,111.91 L327.40,111.79 L326.90,111.66 L326.40,111.53 L325.90,111.40 L325.40,111.27 L324.90,111.13 L324.40,110.98 L323.90,110.84 L323.40,110.69 L322.90,110.53 L322.40,110.37 L321.90,110.21 L321.40,110.05 L320.90,109.88 L320.40,109.71 L319.90,109.54 L319.40,109.36 L318.90,109.19 L318.40,109.01 L317.90,108.83 L317.40,108.65 L316.90,108.47 L316.40,108.29 L315.90,108.11 L315.40,107.93 L314.90,107.75 L314.40,107.58 L313.90,107.40 L313.40,107.24 L312.90,107.07 L312.40,106.91 L311.90,106.75 L311.40,106.60 L310.90,106.45 L310.40,106.31 L309.90,106.17 L309.40,106.04 L308.90,105.92 L308.40,105.80 L307.90,105.70 L307.40,105.60 L306.90,105.51 L306.40,105.43 L305.90,105.35 L305.40,105.29 L304.90,105.23 L304.40,105.18 L303.90,105.14 L303.40,105.11 L302.90,105.09 L302.40,105.08 L301.90,105.07 L301.40,105.07 L300.90,105.08 L300.40,105.10 L299.90,105.13 L299.40,105.18 L298.90,105.24 L298.40,105.30 L297.90,105.37 L297.40,105.44 L296.90,105.52 L296.40,105.60 L295.90,105.69 L295.40,105.77 L294.90,105.86 L294.40,105.96 L293.90,106.05 L293.40,106.14 L292.90,106.24 L292.40,106.33 L291.90,106.43 L291.40,106.52 L290.90,106.61 L290.40,106.70 L289.90,106.79 L289.40,106.87 L288.90,106.96 L288.40,107.04 L287.90,107.11 L287.40,107.19 L286.90,107.26 L286.40,107.33 L285.90,107.39 L285.40,107.45 L284.90,107.50 L284.40,107.56 L283.90,107.60 L283.40,107.65 L282.90,107.69 L282.40,107.72 L281.90,107.76 L281.40,107.79 L280.90,107.81 L280.40,107.83 L279.90,107.85 L279.40,107.87 L278.90,107.88 L278.40,107.89 L277.90,107.90 L277.40,107.90 L276.90,107.90 L276.40,107.90 L275.90,107.89 L275.40,107.89 L274.90,107.88 L274.40,107.87 L273.90,107.86 L273.40,107.84 L272.90,107.83 L272.40,107.81 L271.90,107.79 L271.40,107.77 L270.90,107.75 L270.40,107.73 L269.90,107.70 L269.40,107.68 L268.90,107.65 L268.40,107.63 L267.90,107.60 L267.40,107.57 L266.90,107.54 L266.40,107.51 L265.90,107.49 L265.40,107.46 L264.90,107.42 L264.40,107.39 L263.90,107.36 L263.40,107.33 L262.90,107.30 L262.40,107.26 L261.90,107.23 L261.40,107.19 L260.90,107.16 L260.40,107.12 L259.90,107.09 L259.40,107.05 L258.90,107.01 L258.40,106.97 L257.90,106.93 L257.40,106.89 L256.90,106.85 L256.40,106.80 L255.90,106.76 L255.40,106.71 L254.90,106.67 L254.40,106.62 L253.90,106.57 L253.40,106.52 L252.90,106.46 L252.40,106.41 L251.90,106.35 L251.40,106.29 L250.90,106.23 L250.40,106.16 L249.90,106.09 L249.40,105.99 L248.90,105.89 L248.40,105.79 L247.90,105.68 L247.40,105.58 L246.90,105.47 L246.40,105.35 L245.90,105.24 L245.40,105.12 L244.90,105.00 L244.40,104.87 L243.90,104.75 L243.40,104.62 L242.90,104.49 L242.40,104.36 L241.90,104.22 L241.40,104.09 L240.90,103.95 L240.40,103.81 L239.90,103.68 L239.40,103.58 L238.90,103.48 L238.40,103.38 L237.90,103.28 L237.40,103.18 L236.90,103.09 L236.40,102.99 L235.90,102.90 L235.40,102.81 L234.90,102.72 L234.40,102.63 L233.90,102.55 L233.40,102.47 L232.90,102.39 L232.40,102.32 L231.90,102.26 L231.40,102.20 L230.90,102.14 L230.40,102.09 L229.90,102.04 L229.40,102.00 L228.90,101.97 L228.40,101.94 L227.90,101.92 L227.40,101.91 L226.90,101.90 L226.40,101.89 L225.90,101.90 L225.40,101.90 L224.90,101.92 L224.40,101.93 L223.90,101.96 L223.40,101.99 L222.90,102.02 L222.40,102.06 L221.90,102.10 L221.40,102.14 L220.90,102.19 L220.40,102.24 L219.90,102.29 L219.40,102.35 L218.90,102.41 L218.40,102.47 L217.90,102.52 L217.40,102.58 L216.90,102.64 L216.40,102.70 L215.90,102.76 L215.40,102.82 L214.90,102.88 L214.40,102.94 L213.90,102.99 L213.40,103.05 L212.90,103.10 L212.40,103.15 L211.90,103.20 L211.40,103.24 L210.90,103.28 L210.40,103.32 L209.90,103.36 L209.40,103.40 L208.90,103.43 L208.40,103.46 L207.90,103.49 L207.40,103.51 L206.90,103.53 L206.40,103.55 L205.90,103.57 L205.40,103.58 L204.90,103.59 L204.40,103.60 L203.90,103.61 L203.40,103.62 L202.90,103.62 L202.40,103.62 L201.90,103.62 L201.40,103.62 L200.90,103.62 L200.40,103.61 L199.90,103.60 L199.40,103.60 Z" stroke="none" fill="#1e8c3c" stroke-width="1.0" />
<path d="M247.90,105.48 L248.40,105.51 L248.90,105.51 L249.40,105.47 L249.90,105.40 L250.40,105.26 L250.90,105.06 L251.40,104.81 L251.90,104.50 L252.40,104.13 L252.90,103.70 L253.40,103.22 L253.90,102.70 L254.40,102.14 L254.90,101.57 L255.40,101.00 L255.90,100.46 L256.40,99.96 L256.90,99.52 L257.40,99.18 L257.90,98.94 L258.40,98.81 L258.90,98.81 L259.40,98.94 L259.90,99.19 L260.40,99.55 L260.90,100.01 L261.40,100.56 L261.90,101.16 L262.40,101.79 L262.90,102.45 L263.40,103.10 L263.90,103.72 L264.40,104.32 L264.90,104.86 L265.40,105.35 L265.90,105.79 L266.40,106.17 L266.90,106.49 L267.40,106.76 L267.90,106.98 L268.40,107.17 L268.90,107.31 L269.40,107.43 L269.90,107.53 L269.90,107.70 L269.40,107.68 L268.90,107.65 L268.40,107.63 L267.90,107.60 L267.40,107.57 L266.90,107.54 L266.40,107.51 L265.90,107.49 L265.40,107.46 L264.90,107.42 L264.40,107.39 L263.90,107.36 L263.40,107.33 L262.90,107.30 L262.40,107.26 L261.90,107.23 L261.40,107.19 L260.90,107.16 L260.40,107.12 L259.90,107.09 L259.40,107.05 L258.90,107.01 L258.40,106.97 L257.90,106.93 L257.40,106.89 L256.90,106.85 L256.40,106.80 L255.90,106.76 L255.40,106.71 L254.90,106.67 L254.40,106.62 L253.90,106.57 L253.40,106.52 L252.90,106.46 L252.40,106.41 L251.90,106.35 L251.40,106.29 L250.90,106.23 L250.40,106.16 L249.90,106.09 L249.40,105.99 L248.90,105.89 L248.40,105.79 L247.90,105.68 Z" stroke="none" fill="#3f92e6" stroke-width="1.0" fill-opacity="1.0"/>
<path d="M310.40,106.14 L310.90,106.22 L311.40,106.30 L311.90,106.35 L312.40,106.39 L312.90,106.40 L313.40,106.38 L313.90,106.32 L314.40,106.22 L314.90,106.06 L315.40,105.85 L315.90,105.58 L316.40,105.24 L316.90,104.82 L317.40,104.34 L317.90,103.79 L318.40,103.17 L318.90,102.49 L319.40,101.76 L319.90,100.99 L320.40,100.20 L320.90,99.40 L321.40,98.62 L321.90,97.87 L322.40,97.17 L322.90,96.56 L323.40,96.04 L323.90,95.64 L324.40,95.37 L324.90,95.24 L325.40,95.27 L325.90,95.45 L326.40,95.75 L326.90,96.17 L327.40,96.71 L327.90,97.36 L328.40,98.10 L328.90,98.92 L329.40,99.80 L329.90,100.73 L330.40,101.70 L330.90,102.67 L331.40,103.65 L331.90,104.61 L332.40,105.55 L332.90,106.45 L333.40,107.30 L333.90,108.11 L334.40,108.85 L334.90,109.53 L335.40,110.16 L335.90,110.72 L336.40,111.23 L336.90,111.68 L337.40,112.07 L337.90,112.42 L338.40,112.73 L338.90,112.99 L339.40,113.22 L339.90,113.42 L340.40,113.60 L340.90,113.75 L341.40,113.88 L341.90,114.00 L341.90,114.19 L341.40,114.13 L340.90,114.06 L340.40,114.00 L339.90,113.94 L339.40,113.88 L338.90,113.81 L338.40,113.75 L337.90,113.68 L337.40,113.61 L336.90,113.54 L336.40,113.47 L335.90,113.40 L335.40,113.33 L334.90,113.25 L334.40,113.17 L333.90,113.09 L333.40,113.01 L332.90,112.92 L332.40,112.83 L331.90,112.74 L331.40,112.65 L330.90,112.55 L330.40,112.45 L329.90,112.35 L329.40,112.25 L328.90,112.14 L328.40,112.02 L327.90,111.91 L327.40,111.79 L326.90,111.66 L326.40,111.53 L325.90,111.40 L325.40,111.27 L324.90,111.13 L324.40,110.98 L323.90,110.84 L323.40,110.69 L322.90,110.53 L322.40,110.37 L321.90,110.21 L321.40,110.05 L320.90,109.88 L320.40,109.71 L319.90,109.54 L319.40,109.36 L318.90,109.19 L318.40,109.01 L317.90,108.83 L317.40,108.65 L316.90,108.47 L316.40,108.29 L315.90,108.11 L315.40,107.93 L314.90,107.75 L314.40,107.58 L313.90,107.40 L313.40,107.24 L312.90,107.07 L312.40,106.91 L311.90,106.75 L311.40,106.60 L310.90,106.45 L310.40,106.31 Z" stroke="none" fill="#3f92e6" stroke-width="1.0" fill-opacity="1.0"/>
<path d="M256.90,106.62 L257.40,106.50 L257.90,106.30 L258.40,105.99 L258.90,105.54 L259.40,104.93 L259.90,104.16 L260.40,103.23 L260.90,102.19 L261.40,101.10 L261.90,100.05 L262.40,99.14 L262.90,98.46 L263.40,98.10 L263.90,98.08 L264.40,98.34 L264.90,98.84 L265.40,99.53 L265.90,100.38 L266.40,101.31 L266.90,102.28 L267.40,103.23 L267.90,104.11 L268.40,104.90 L268.90,105.58 L269.40,106.15 L269.90,106.60 L270.40,106.96 L270.90,107.23 L271.40,107.42 L271.90,107.57 L271.90,107.79 L271.40,107.77 L270.90,107.75 L270.40,107.73 L269.90,107.70 L269.40,107.68 L268.90,107.65 L268.40,107.63 L267.90,107.60 L267.40,107.57 L266.90,107.54 L266.40,107.51 L265.90,107.49 L265.40,107.46 L264.90,107.42 L264.40,107.39 L263.90,107.36 L263.40,107.33 L262.90,107.30 L262.40,107.26 L261.90,107.23 L261.40,107.19 L260.90,107.16 L260.40,107.12 L259.90,107.09 L259.40,107.05 L258.90,107.01 L258.40,106.97 L257.90,106.93 L257.40,106.89 L256.90,106.85 Z" stroke="none" fill="#f26a6a" stroke-width="1.0" fill-opacity="0.85"/>
<path d="M322.40,110.16 L322.90,110.19 L323.40,110.15 L323.90,110.01 L324.40,109.75 L324.90,109.31 L325.40,108.67 L325.90,107.77 L326.40,106.58 L326.90,105.07 L327.40,103.22 L327.90,101.05 L328.40,98.60 L328.90,95.94 L329.40,93.17 L329.90,90.43 L330.40,87.86 L330.90,85.64 L331.40,83.90 L331.90,82.77 L332.40,82.35 L332.90,82.52 L333.40,82.99 L333.90,83.73 L334.40,84.73 L334.90,85.96 L335.40,87.37 L335.90,88.93 L336.40,90.59 L336.90,92.31 L337.40,94.05 L337.90,95.77 L338.40,97.44 L338.90,99.03 L339.40,100.53 L339.90,101.91 L340.40,103.18 L340.90,104.33 L341.40,105.36 L341.90,106.28 L342.40,107.09 L342.90,107.80 L343.40,108.43 L343.90,108.98 L344.40,109.46 L344.90,109.88 L345.40,110.26 L345.90,110.59 L346.40,110.89 L346.90,111.17 L347.40,111.42 L347.90,111.65 L348.40,111.86 L348.90,112.06 L349.40,112.25 L349.90,112.43 L350.40,112.60 L350.90,112.76 L351.40,112.92 L351.90,113.07 L352.40,113.21 L352.90,113.35 L353.40,113.48 L353.90,113.61 L354.40,113.74 L354.90,113.86 L355.40,113.98 L355.40,115.69 L354.90,115.63 L354.40,115.58 L353.90,115.53 L353.40,115.47 L352.90,115.42 L352.40,115.36 L351.90,115.31 L351.40,115.25 L350.90,115.20 L350.40,115.14 L349.90,115.09 L349.40,115.04 L348.90,114.98 L348.40,114.93 L347.90,114.87 L347.40,114.81 L346.90,114.76 L346.40,114.70 L345.90,114.65 L345.40,114.59 L344.90,114.53 L344.40,114.48 L343.90,114.42 L343.40,114.36 L342.90,114.30 L342.40,114.24 L341.90,114.19 L341.40,114.13 L340.90,114.06 L340.40,114.00 L339.90,113.94 L339.40,113.88 L338.90,113.81 L338.40,113.75 L337.90,113.68 L337.40,113.61 L336.90,113.54 L336.40,113.47 L335.90,113.40 L335.40,113.33 L334.90,113.25 L334.40,113.17 L333.90,113.09 L333.40,113.01 L332.90,112.92 L332.40,112.83 L331.90,112.74 L331.40,112.65 L330.90,112.55 L330.40,112.45 L329.90,112.35 L329.40,112.25 L328.90,112.14 L328.40,112.02 L327.90,111.91 L327.40,111.79 L326.90,111.66 L326.40,111.53 L325.90,111.40 L325.40,111.27 L324.90,111.13 L324.40,110.98 L323.90,110.84 L323.40,110.69 L322.90,110.53 L322.40,110.37 Z" stroke="none" fill="#f26a6a" stroke-width="1.0" fill-opacity="0.85"/>
<path d="M199.50,103.20 C201.25,103.10 206.58,102.85 210.00,102.60 C213.42,102.35 217.00,101.93 220.00,101.70 C223.00,101.47 225.33,101.05 228.00,101.20 C230.67,101.35 233.50,102.03 236.00,102.60 C238.50,103.17 241.12,104.20 243.00,104.60 C244.88,105.00 245.77,105.35 247.30,105.00 C248.83,104.65 250.58,104.03 252.20,102.50 C253.82,100.97 255.18,97.68 257.00,95.80 C258.82,93.92 261.58,91.20 263.10,91.20 C264.62,91.20 265.08,93.82 266.10,95.80 C267.12,97.78 268.08,101.18 269.20,103.10 C270.32,105.02 270.98,106.38 272.80,107.30 C274.62,108.22 277.47,108.60 280.10,108.60 C282.73,108.60 285.28,107.92 288.60,107.30 C291.92,106.68 297.27,105.58 300.00,104.90 C302.73,104.23 302.50,103.32 305.00,103.25 C307.50,103.18 312.50,104.71 315.00,104.50 C317.50,104.29 318.54,103.88 320.00,102.00 C321.46,100.12 322.29,96.17 323.75,93.25 C325.21,90.33 327.29,87.62 328.75,84.50 C330.21,81.38 331.38,75.33 332.50,74.50 C333.62,73.67 334.46,75.75 335.50,79.50 C336.54,83.25 337.58,92.42 338.75,97.00 C339.92,101.58 341.04,104.29 342.50,107.00 C343.96,109.71 345.33,111.50 347.50,113.25 C349.67,115.00 354.17,116.79 355.50,117.50" stroke="#1a1a1a" fill="none" stroke-width="1.15" />
<text x="205" y="117.6" font-size="6.4" text-anchor="start" font-weight="bold" fill="#1a1a1a" stroke="#1a1a1a" stroke-width="0.32" textLength="56" lengthAdjust="spacingAndGlyphs" >RuO<tspan font-size="3.84" dy="1.79">2</tspan><tspan dy="-1.79">​</tspan>/(Co,Mn)<tspan font-size="3.84" dy="1.79">3</tspan><tspan dy="-1.79">​</tspan>O<tspan font-size="3.84" dy="1.79">4</tspan><tspan dy="-1.79">​</tspan>/CC</text>
<text x="376.3" y="9.15" font-size="12" text-anchor="start" font-weight="bold" fill="#1a1a1a" stroke="#1a1a1a" stroke-width="0.32" >c</text>
<rect x="390.6" y="6.1" width="151.89999999999998" height="112.10000000000001" fill="none" stroke="#3a3a3a" stroke-width="1.1"/>
<line x1="390.6" y1="118.2" x2="390.6" y2="115.7" stroke="#333" stroke-width="0.8" />
<text x="390.6" y="126.3" font-size="6.4" text-anchor="middle" font-weight="bold" fill="#1a1a1a" stroke="#1a1a1a" stroke-width="0.32" >665</text>
<line x1="415.9166666666667" y1="118.2" x2="415.9166666666667" y2="115.7" stroke="#333" stroke-width="0.8" />
<text x="415.92" y="126.3" font-size="6.4" text-anchor="middle" font-weight="bold" fill="#1a1a1a" stroke="#1a1a1a" stroke-width="0.32" >660</text>
<line x1="441.23333333333335" y1="118.2" x2="441.23333333333335" y2="115.7" stroke="#333" stroke-width="0.8" />
<text x="441.23" y="126.3" font-size="6.4" text-anchor="middle" font-weight="bold" fill="#1a1a1a" stroke="#1a1a1a" stroke-width="0.32" >655</text>
<line x1="466.55" y1="118.2" x2="466.55" y2="115.7" stroke="#333" stroke-width="0.8" />
<text x="466.55" y="126.3" font-size="6.4" text-anchor="middle" font-weight="bold" fill="#1a1a1a" stroke="#1a1a1a" stroke-width="0.32" >650</text>
<line x1="491.8666666666667" y1="118.2" x2="491.8666666666667" y2="115.7" stroke="#333" stroke-width="0.8" />
<text x="491.87" y="126.3" font-size="6.4" text-anchor="middle" font-weight="bold" fill="#1a1a1a" stroke="#1a1a1a" stroke-width="0.32" >645</text>
<line x1="517.1833333333334" y1="118.2" x2="517.1833333333334" y2="115.7" stroke="#333" stroke-width="0.8" />
<text x="517.18" y="126.3" font-size="6.4" text-anchor="middle" font-weight="bold" fill="#1a1a1a" stroke="#1a1a1a" stroke-width="0.32" >640</text>
<line x1="542.5" y1="118.2" x2="542.5" y2="115.7" stroke="#333" stroke-width="0.8" />
<text x="542.5" y="126.3" font-size="6.4" text-anchor="middle" font-weight="bold" fill="#1a1a1a" stroke="#1a1a1a" stroke-width="0.32" >635</text>
<line x1="403.2583333333333" y1="118.2" x2="403.2583333333333" y2="116.7" stroke="#333" stroke-width="0.8" />
<line x1="428.57500000000005" y1="118.2" x2="428.57500000000005" y2="116.7" stroke="#333" stroke-width="0.8" />
<line x1="453.89166666666665" y1="118.2" x2="453.89166666666665" y2="116.7" stroke="#333" stroke-width="0.8" />
<line x1="479.20833333333337" y1="118.2" x2="479.20833333333337" y2="116.7" stroke="#333" stroke-width="0.8" />
<line x1="504.525" y1="118.2" x2="504.525" y2="116.7" stroke="#333" stroke-width="0.8" />
<line x1="529.8416666666667" y1="118.2" x2="529.8416666666667" y2="116.7" stroke="#333" stroke-width="0.8" />
<text x="425.7" y="139.6" font-size="8.4" text-anchor="start" font-weight="bold" fill="#1a1a1a" stroke="#1a1a1a" stroke-width="0.32" textLength="82" lengthAdjust="spacingAndGlyphs" >Binding Energy (eV)</text>
<text transform="translate(380.4,67.7) rotate(-90)" x="0" y="0" font-size="8.6" text-anchor="middle" font-weight="bold" fill="#1a1a1a" stroke="#1a1a1a" stroke-width="0.32" textLength="57.85" lengthAdjust="spacingAndGlyphs">Intensity (a.u.)</text>
<text x="395" y="17" font-size="7.2" text-anchor="start" font-weight="bold" fill="#1a1a1a" stroke="#1a1a1a" stroke-width="0.32" textLength="20" lengthAdjust="spacingAndGlyphs" >Mn 2p</text>
<path d="M436.50,86.00 C436.65,84.75 436.98,80.68 437.40,78.50 C437.82,76.32 438.25,75.72 439.00,72.90 C439.75,70.08 440.85,65.37 441.90,61.60 C442.95,57.83 444.28,53.12 445.30,50.30 C446.32,47.48 447.05,45.08 448.00,44.70 C448.95,44.32 449.95,45.18 451.00,48.00 C452.05,50.82 453.18,57.45 454.30,61.60 C455.42,65.75 456.38,69.33 457.70,72.90 C459.02,76.47 460.50,80.55 462.20,83.00 C463.90,85.45 465.77,86.30 467.90,87.60 C470.03,88.90 472.65,89.80 475.00,90.80 C477.35,91.80 480.83,93.13 482.00,93.60 L482,97.09374588545094 L436.5,87.6882159315339 Z" stroke="none" fill="#1798b6" stroke-width="1.0" />
<path d="M497.00,98.00 C497.42,94.88 498.72,85.35 499.50,79.30 C500.28,73.25 500.90,67.25 501.70,61.70 C502.50,56.15 503.43,50.48 504.30,46.00 C505.17,41.52 506.03,35.37 506.90,34.80 C507.77,34.23 508.62,38.98 509.50,42.60 C510.38,46.22 511.47,51.93 512.20,56.50 C512.93,61.07 513.07,65.05 513.90,70.00 C514.73,74.95 515.65,81.82 517.20,86.20 C518.75,90.58 520.52,93.53 523.20,96.30 C525.88,99.07 530.08,101.08 533.30,102.80 C536.52,104.52 540.97,105.97 542.50,106.60 L542.5,109.6 L497,100.19447004608294 Z" stroke="none" fill="#1798b6" stroke-width="1.0" />
<path d="M418.60,80.77 L419.10,80.83 L419.60,80.87 L420.10,80.89 L420.60,80.90 L421.10,80.88 L421.60,80.84 L422.10,80.78 L422.60,80.68 L423.10,80.57 L423.60,80.42 L424.10,80.26 L424.60,80.09 L425.10,79.91 L425.60,79.73 L426.10,79.56 L426.60,79.41 L427.10,79.29 L427.60,79.22 L428.10,79.19 L428.60,79.22 L429.10,79.31 L429.60,79.46 L430.10,79.66 L430.60,79.92 L431.10,80.22 L431.60,80.56 L432.10,80.93 L432.60,81.31 L433.10,81.71 L433.60,82.10 L434.10,82.48 L434.60,82.84 L435.10,83.19 L435.60,83.51 L436.10,83.80 L436.60,84.07 L437.10,84.31 L437.60,84.52 L438.10,84.72 L438.60,84.90 L439.10,85.06 L439.60,85.21 L439.60,86.32 L439.10,86.22 L438.60,86.11 L438.10,86.01 L437.60,85.90 L437.10,85.80 L436.60,85.69 L436.10,85.59 L435.60,85.48 L435.10,85.37 L434.60,85.27 L434.10,85.16 L433.60,85.06 L433.10,84.95 L432.60,84.85 L432.10,84.74 L431.60,84.64 L431.10,84.53 L430.60,84.43 L430.10,84.32 L429.60,84.22 L429.10,84.11 L428.60,84.01 L428.10,83.90 L427.60,83.79 L427.10,83.69 L426.60,83.58 L426.10,83.48 L425.60,83.37 L425.10,83.27 L424.60,83.16 L424.10,83.06 L423.60,82.95 L423.10,82.85 L422.60,82.74 L422.10,82.64 L421.60,82.53 L421.10,82.43 L420.60,82.32 L420.10,82.21 L419.60,82.11 L419.10,82.00 L418.60,81.90 Z" stroke="none" fill="#5058dc" stroke-width="1.0" />
<path d="M469.10,91.41 L469.60,91.48 L470.10,91.53 L470.60,91.58 L471.10,91.61 L471.60,91.62 L472.10,91.62 L472.60,91.59 L473.10,91.54 L473.60,91.46 L474.10,91.35 L474.60,91.21 L475.10,91.04 L475.60,90.85 L476.10,90.62 L476.60,90.36 L477.10,90.07 L477.60,89.76 L478.10,89.44 L478.60,89.11 L479.10,88.77 L479.60,88.44 L480.10,88.12 L480.60,87.82 L481.10,87.56 L481.60,87.34 L482.10,87.17 L482.60,87.05 L483.10,87.00 L483.60,87.01 L484.10,87.10 L484.60,87.25 L485.10,87.48 L485.60,87.76 L486.10,88.11 L486.60,88.52 L487.10,88.97 L487.60,89.45 L488.10,89.97 L488.60,90.51 L489.10,91.05 L489.60,91.60 L490.10,92.14 L490.60,92.67 L491.10,93.18 L491.60,93.67 L492.10,94.12 L492.60,94.55 L493.10,94.95 L493.60,95.32 L494.10,95.65 L494.60,95.96 L495.10,96.24 L495.60,96.49 L496.10,96.72 L496.60,96.93 L497.10,97.12 L497.60,97.29 L498.10,97.45 L498.60,97.60 L499.10,97.75 L499.10,98.86 L498.60,98.75 L498.10,98.65 L497.60,98.54 L497.10,98.44 L496.60,98.33 L496.10,98.23 L495.60,98.12 L495.10,98.01 L494.60,97.91 L494.10,97.80 L493.60,97.70 L493.10,97.59 L492.60,97.49 L492.10,97.38 L491.60,97.28 L491.10,97.17 L490.60,97.07 L490.10,96.96 L489.60,96.86 L489.10,96.75 L488.60,96.65 L488.10,96.54 L487.60,96.43 L487.10,96.33 L486.60,96.22 L486.10,96.12 L485.60,96.01 L485.10,95.91 L484.60,95.80 L484.10,95.70 L483.60,95.59 L483.10,95.49 L482.60,95.38 L482.10,95.28 L481.60,95.17 L481.10,95.07 L480.60,94.96 L480.10,94.85 L479.60,94.75 L479.10,94.64 L478.60,94.54 L478.10,94.43 L477.60,94.33 L477.10,94.22 L476.60,94.12 L476.10,94.01 L475.60,93.91 L475.10,93.80 L474.60,93.70 L474.10,93.59 L473.60,93.49 L473.10,93.38 L472.60,93.27 L472.10,93.17 L471.60,93.06 L471.10,92.96 L470.60,92.85 L470.10,92.75 L469.60,92.64 L469.10,92.54 Z" stroke="none" fill="#5058dc" stroke-width="1.0" />
<path d="M390.60,78.20 L391.10,78.30 L391.60,78.41 L392.10,78.51 L392.60,78.61 L393.10,78.72 L393.60,78.82 L394.10,78.92 L394.60,79.03 L395.10,79.13 L395.60,79.23 L396.10,79.34 L396.60,79.44 L397.10,79.54 L397.60,79.65 L398.10,79.75 L398.60,79.85 L399.10,79.96 L399.60,80.06 L400.10,80.16 L400.60,80.27 L401.10,80.37 L401.60,80.47 L402.10,80.58 L402.60,80.68 L403.10,80.78 L403.60,80.89 L404.10,80.99 L404.60,81.09 L405.10,81.20 L405.60,81.30 L406.10,81.40 L406.60,81.51 L407.10,81.61 L407.60,81.71 L408.10,81.82 L408.60,81.92 L409.10,82.02 L409.60,82.13 L410.10,82.23 L410.60,82.33 L411.10,82.44 L411.60,82.54 L412.10,82.64 L412.60,82.75 L413.10,82.85 L413.60,82.95 L414.10,83.06 L414.60,83.16 L415.10,83.26 L415.60,83.37 L416.10,83.47 L416.60,83.57 L417.10,83.68 L417.60,83.78 L418.10,83.88 L418.60,83.99 L419.10,84.09 L419.60,84.19 L420.10,84.30 L420.60,84.40 L421.10,84.50 L421.60,84.61 L422.10,84.71 L422.60,84.81 L423.10,84.92 L423.60,85.02 L424.10,85.12 L424.60,85.23 L425.10,85.33 L425.60,85.44 L426.10,85.54 L426.60,85.64 L427.10,85.75 L427.60,85.85 L428.10,85.95 L428.60,86.06 L429.10,86.16 L429.60,86.26 L430.10,86.37 L430.60,86.47 L431.10,86.57 L431.60,86.68 L432.10,86.78 L432.60,86.88 L433.10,86.99 L433.60,87.09 L434.10,87.19 L434.60,87.30 L435.10,87.40 L435.60,87.50 L436.10,87.61 L436.60,87.71 L437.10,87.81 L437.60,87.92 L438.10,88.02 L438.60,88.12 L439.10,88.23 L439.60,88.33 L440.10,88.43 L440.60,88.54 L441.10,88.64 L441.60,88.74 L442.10,88.85 L442.60,88.95 L443.10,89.05 L443.60,89.16 L444.10,89.26 L444.60,89.36 L445.10,89.47 L445.60,89.57 L446.10,89.67 L446.60,89.78 L447.10,89.88 L447.60,89.98 L448.10,90.09 L448.60,90.19 L449.10,90.29 L449.60,90.40 L450.10,90.50 L450.60,90.60 L451.10,90.71 L451.60,90.81 L452.10,90.91 L452.60,91.02 L453.10,91.12 L453.60,91.22 L454.10,91.33 L454.60,91.43 L455.10,91.53 L455.60,91.64 L456.10,91.74 L456.60,91.84 L457.10,91.95 L457.60,92.05 L458.10,92.15 L458.60,92.26 L459.10,92.36 L459.60,92.46 L460.10,92.57 L460.60,92.67 L461.10,92.77 L461.60,92.88 L462.10,92.98 L462.60,93.08 L463.10,93.19 L463.60,93.29 L464.10,93.39 L464.60,93.50 L465.10,93.60 L465.60,93.70 L466.10,93.81 L466.60,93.91 L467.10,94.01 L467.60,94.12 L468.10,94.22 L468.60,94.32 L469.10,94.43 L469.60,94.53 L470.10,94.63 L470.60,94.74 L471.10,94.84 L471.60,94.94 L472.10,95.05 L472.60,95.15 L473.10,95.25 L473.60,95.36 L474.10,95.46 L474.60,95.56 L475.10,95.67 L475.60,95.77 L476.10,95.87 L476.60,95.98 L477.10,96.08 L477.60,96.18 L478.10,96.29 L478.60,96.39 L479.10,96.49 L479.60,96.60 L480.10,96.70 L480.60,96.80 L481.10,96.91 L481.60,97.01 L482.10,97.11 L482.60,97.22 L483.10,97.32 L483.60,97.42 L484.10,97.53 L484.60,97.63 L485.10,97.73 L485.60,97.84 L486.10,97.94 L486.60,98.04 L487.10,98.15 L487.60,98.25 L488.10,98.35 L488.60,98.46 L489.10,98.56 L489.60,98.66 L490.10,98.77 L490.60,98.87 L491.10,98.97 L491.60,99.08 L492.10,99.18 L492.60,99.28 L493.10,99.39 L493.60,99.49 L494.10,99.59 L494.60,99.70 L495.10,99.80 L495.60,99.91 L496.10,100.01 L496.60,100.11 L497.10,100.22 L497.60,100.32 L498.10,100.42 L498.60,100.53 L499.10,100.63 L499.60,100.73 L500.10,100.84 L500.60,100.94 L501.10,101.04 L501.60,101.15 L502.10,101.25 L502.60,101.35 L503.10,101.46 L503.60,101.56 L504.10,101.66 L504.60,101.77 L505.10,101.87 L505.60,101.97 L506.10,102.08 L506.60,102.18 L507.10,102.28 L507.60,102.39 L508.10,102.49 L508.60,102.59 L509.10,102.70 L509.60,102.80 L510.10,102.90 L510.60,103.01 L511.10,103.11 L511.60,103.21 L512.10,103.32 L512.60,103.42 L513.10,103.52 L513.60,103.63 L514.10,103.73 L514.60,103.83 L515.10,103.94 L515.60,104.04 L516.10,104.14 L516.60,104.25 L517.10,104.35 L517.60,104.45 L518.10,104.56 L518.60,104.66 L519.10,104.76 L519.60,104.87 L520.10,104.97 L520.60,105.07 L521.10,105.18 L521.60,105.28 L522.10,105.38 L522.60,105.49 L523.10,105.59 L523.60,105.69 L524.10,105.80 L524.60,105.90 L525.10,106.00 L525.60,106.11 L526.10,106.21 L526.60,106.31 L527.10,106.42 L527.60,106.52 L528.10,106.62 L528.60,106.73 L529.10,106.83 L529.60,106.93 L530.10,107.04 L530.60,107.14 L531.10,107.24 L531.60,107.35 L532.10,107.45 L532.60,107.55 L533.10,107.66 L533.60,107.76 L534.10,107.86 L534.60,107.97 L535.10,108.07 L535.60,108.17 L536.10,108.28 L536.60,108.38 L537.10,108.48 L537.60,108.59 L538.10,108.69 L538.60,108.79 L539.10,108.90 L539.60,109.00 L540.10,109.10 L540.60,109.21 L541.10,109.31 L541.60,109.41 L542.10,109.52 L542.10,106.92 L541.60,106.81 L541.10,106.71 L540.60,106.60 L540.10,106.49 L539.60,106.39 L539.10,106.28 L538.60,106.18 L538.10,106.07 L537.60,105.97 L537.10,105.86 L536.60,105.76 L536.10,105.65 L535.60,105.55 L535.10,105.44 L534.60,105.34 L534.10,105.23 L533.60,105.13 L533.10,105.02 L532.60,104.91 L532.10,104.81 L531.60,104.70 L531.10,104.60 L530.60,104.49 L530.10,104.39 L529.60,104.28 L529.10,104.18 L528.60,104.07 L528.10,103.97 L527.60,103.86 L527.10,103.76 L526.60,103.65 L526.10,103.55 L525.60,103.44 L525.10,103.33 L524.60,103.23 L524.10,103.12 L523.60,103.02 L523.10,102.91 L522.60,102.81 L522.10,102.70 L521.60,102.60 L521.10,102.49 L520.60,102.39 L520.10,102.28 L519.60,102.18 L519.10,102.07 L518.60,101.97 L518.10,101.86 L517.60,101.75 L517.10,101.65 L516.60,101.54 L516.10,101.44 L515.60,101.33 L515.10,101.23 L514.60,101.12 L514.10,101.01 L513.60,100.90 L513.10,100.79 L512.60,100.68 L512.10,100.56 L511.60,100.44 L511.10,100.31 L510.60,100.16 L510.10,100.00 L509.60,99.80 L509.10,99.57 L508.60,99.30 L508.10,98.96 L507.60,98.55 L507.10,98.05 L506.60,97.44 L506.10,96.70 L505.60,95.82 L505.10,94.79 L504.60,93.60 L504.10,92.26 L503.60,90.77 L503.10,89.16 L502.60,87.46 L502.10,85.73 L501.60,84.00 L501.10,82.35 L500.60,80.84 L500.10,79.52 L499.60,78.46 L499.10,77.70 L498.60,77.28 L498.10,77.22 L497.60,77.54 L497.10,78.23 L496.60,79.24 L496.10,80.51 L495.60,81.97 L495.10,83.55 L494.60,85.17 L494.10,86.76 L493.60,88.27 L493.10,89.66 L492.60,90.89 L492.10,91.95 L491.60,92.83 L491.10,93.55 L490.60,94.11 L490.10,94.52 L489.60,94.82 L489.10,95.02 L488.60,95.14 L488.10,95.20 L487.60,95.21 L487.10,95.18 L486.60,95.13 L486.10,95.06 L485.60,94.98 L485.10,94.89 L484.60,94.79 L484.10,94.69 L483.60,94.59 L483.10,94.48 L482.60,94.38 L482.10,94.28 L481.60,94.17 L481.10,94.06 L480.60,93.96 L480.10,93.85 L479.60,93.75 L479.10,93.64 L478.60,93.54 L478.10,93.43 L477.60,93.33 L477.10,93.22 L476.60,93.12 L476.10,93.01 L475.60,92.91 L475.10,92.80 L474.60,92.70 L474.10,92.59 L473.60,92.49 L473.10,92.38 L472.60,92.27 L472.10,92.17 L471.60,92.06 L471.10,91.96 L470.60,91.85 L470.10,91.75 L469.60,91.64 L469.10,91.54 L468.60,91.43 L468.10,91.33 L467.60,91.22 L467.10,91.12 L466.60,91.01 L466.10,90.91 L465.60,90.80 L465.10,90.69 L464.60,90.59 L464.10,90.48 L463.60,90.38 L463.10,90.27 L462.60,90.17 L462.10,90.06 L461.60,89.96 L461.10,89.85 L460.60,89.75 L460.10,89.64 L459.60,89.54 L459.10,89.43 L458.60,89.33 L458.10,89.22 L457.60,89.11 L457.10,89.01 L456.60,88.90 L456.10,88.80 L455.60,88.69 L455.10,88.59 L454.60,88.48 L454.10,88.38 L453.60,88.27 L453.10,88.16 L452.60,88.05 L452.10,87.95 L451.60,87.83 L451.10,87.72 L450.60,87.60 L450.10,87.47 L449.60,87.34 L449.10,87.19 L448.60,87.03 L448.10,86.85 L447.60,86.65 L447.10,86.41 L446.60,86.14 L446.10,85.82 L445.60,85.45 L445.10,85.02 L444.60,84.54 L444.10,83.98 L443.60,83.37 L443.10,82.69 L442.60,81.96 L442.10,81.19 L441.60,80.38 L441.10,79.58 L440.60,78.78 L440.10,78.02 L439.60,77.33 L439.10,76.72 L438.60,76.22 L438.10,75.85 L437.60,75.61 L437.10,75.52 L436.60,75.57 L436.10,75.76 L435.60,76.08 L435.10,76.49 L434.60,76.99 L434.10,77.55 L433.60,78.14 L433.10,78.73 L432.60,79.32 L432.10,79.88 L431.60,80.39 L431.10,80.84 L430.60,81.23 L430.10,81.56 L429.60,81.83 L429.10,82.03 L428.60,82.18 L428.10,82.28 L427.60,82.33 L427.10,82.35 L426.60,82.34 L426.10,82.31 L425.60,82.25 L425.10,82.19 L424.60,82.11 L424.10,82.02 L423.60,81.93 L423.10,81.83 L422.60,81.73 L422.10,81.63 L421.60,81.53 L421.10,81.42 L420.60,81.32 L420.10,81.21 L419.60,81.11 L419.10,81.00 L418.60,80.90 L418.10,80.79 L417.60,80.69 L417.10,80.58 L416.60,80.48 L416.10,80.37 L415.60,80.27 L415.10,80.16 L414.60,80.06 L414.10,79.95 L413.60,79.85 L413.10,79.74 L412.60,79.63 L412.10,79.53 L411.60,79.42 L411.10,79.32 L410.60,79.21 L410.10,79.11 L409.60,79.00 L409.10,78.90 L408.60,78.79 L408.10,78.69 L407.60,78.58 L407.10,78.48 L406.60,78.37 L406.10,78.27 L405.60,78.16 L405.10,78.05 L404.60,77.95 L404.10,77.84 L403.60,77.74 L403.10,77.63 L402.60,77.53 L402.10,77.42 L401.60,77.32 L401.10,77.21 L400.60,77.11 L400.10,77.00 L399.60,76.90 L399.10,76.79 L398.60,76.69 L398.10,76.58 L397.60,76.47 L397.10,76.37 L396.60,76.26 L396.10,76.16 L395.60,76.05 L395.10,75.95 L394.60,75.84 L394.10,75.74 L393.60,75.63 L393.10,75.53 L392.60,75.42 L392.10,75.32 L391.60,75.21 L391.10,75.11 L390.60,75.00 Z" stroke="none" fill="#e6cf2c" stroke-width="1.0" />
<path d="M390.00,75.00 C392.58,75.33 401.00,76.78 405.50,77.00 C410.00,77.22 413.75,76.63 417.00,76.30 C420.25,75.97 422.55,75.80 425.00,75.00 C427.45,74.20 430.00,72.67 431.70,71.50 C433.40,70.33 434.25,69.33 435.20,68.00 C436.15,66.67 436.47,65.70 437.40,63.50 C438.33,61.30 439.67,57.75 440.80,54.80 C441.93,51.85 443.07,48.13 444.20,45.80 C445.33,43.47 446.47,41.18 447.60,40.80 C448.73,40.42 450.07,41.73 451.00,43.50 C451.93,45.27 452.27,48.00 453.20,51.40 C454.13,54.80 455.47,59.95 456.60,63.90 C457.73,67.85 458.68,71.92 460.00,75.10 C461.32,78.28 462.82,81.12 464.50,83.00 C466.18,84.88 468.02,85.82 470.10,86.40 C472.18,86.98 474.53,87.07 477.00,86.50 C479.47,85.93 482.37,84.50 484.90,83.00 C487.43,81.50 490.38,79.93 492.20,77.50 C494.02,75.07 494.67,72.15 495.80,68.40 C496.93,64.65 497.87,59.88 499.00,55.00 C500.13,50.12 501.57,43.20 502.60,39.10 C503.63,35.00 504.48,32.28 505.20,30.40 C505.92,28.52 506.32,27.80 506.90,27.80 C507.48,27.80 508.18,28.80 508.70,30.40 C509.22,32.00 509.57,34.80 510.00,37.40 C510.43,40.00 510.88,43.12 511.30,46.00 C511.72,48.88 512.05,52.03 512.50,54.70 C512.95,57.37 513.50,59.45 514.00,62.00 C514.50,64.55 514.92,67.00 515.50,70.00 C516.08,73.00 516.83,77.17 517.50,80.00 C518.17,82.83 518.75,84.92 519.50,87.00 C520.25,89.08 521.05,90.78 522.00,92.50 C522.95,94.22 523.87,95.97 525.20,97.30 C526.53,98.63 528.32,99.58 530.00,100.50 C531.68,101.42 533.13,101.97 535.30,102.80 C537.47,103.63 541.72,105.05 543.00,105.50" stroke="#1a1a1a" fill="none" stroke-width="1.15" />
<text x="442.8" y="36.2" font-size="6.8" text-anchor="start" font-weight="bold" fill="#1a1a1a" stroke="#1a1a1a" stroke-width="0.32" >2p<tspan font-size="3.8" dx="1.5" dy="1.2">1/2</tspan></text>
<text x="455.3" y="46.2" font-size="6.5" text-anchor="start" font-weight="bold" fill="#1a1a1a" stroke="#1a1a1a" stroke-width="0.32" >Mn<tspan font-size="3.8" dy="-2.6">3+</tspan></text>
<line x1="458" y1="47.5" x2="454" y2="53" stroke="#222" stroke-width="0.6" />
<text x="426" y="60.2" font-size="6.5" text-anchor="start" font-weight="bold" fill="#1a1a1a" stroke="#1a1a1a" stroke-width="0.32" >Mn<tspan font-size="3.8" dy="-2.6">4+</tspan></text>
<line x1="434.5" y1="61.5" x2="437.5" y2="73" stroke="#222" stroke-width="0.6" />
<text x="415.8" y="74.2" font-size="4.6" text-anchor="start" font-weight="bold" fill="#1a1a1a" stroke="#1a1a1a" stroke-width="0.32" textLength="8.9" lengthAdjust="spacingAndGlyphs" >Sat.</text>
<text x="499.5" y="22.6" font-size="6.8" text-anchor="start" font-weight="bold" fill="#1a1a1a" stroke="#1a1a1a" stroke-width="0.32" >2p<tspan font-size="3.8" dx="1.5" dy="1.2">3/2</tspan></text>
<text x="514" y="33.6" font-size="6.5" text-anchor="start" font-weight="bold" fill="#1a1a1a" stroke="#1a1a1a" stroke-width="0.32" >Mn<tspan font-size="3.8" dy="-2.6">3+</tspan></text>
<line x1="518" y1="34.5" x2="511" y2="43" stroke="#222" stroke-width="0.6" />
<text x="481" y="62.6" font-size="6.5" text-anchor="start" font-weight="bold" fill="#1a1a1a" stroke="#1a1a1a" stroke-width="0.32" >Mn<tspan font-size="3.8" dy="-2.6">4+</tspan></text>
<line x1="493" y1="64" x2="497.5" y2="75" stroke="#222" stroke-width="0.6" />
<text x="475" y="79.2" font-size="4.6" text-anchor="start" font-weight="bold" fill="#1a1a1a" stroke="#1a1a1a" stroke-width="0.32" textLength="8" lengthAdjust="spacingAndGlyphs" >Sat.</text>
<text x="393" y="98.6" font-size="6.8" text-anchor="start" font-weight="bold" fill="#1a1a1a" stroke="#1a1a1a" stroke-width="0.32" textLength="59.5" lengthAdjust="spacingAndGlyphs" >RuO<tspan font-size="4.08" dy="1.9">2</tspan><tspan dy="-1.9">​</tspan>/(Co,Mn)<tspan font-size="4.08" dy="1.9">3</tspan><tspan dy="-1.9">​</tspan>O<tspan font-size="4.08" dy="1.9">4</tspan><tspan dy="-1.9">​</tspan>/CC</text>
<text x="4.5" y="155.7" font-size="12" text-anchor="start" font-weight="bold" fill="#1a1a1a" stroke="#1a1a1a" stroke-width="0.32" >d</text>
<rect x="19.5" y="151.3" width="146.8" height="107.80000000000001" fill="none" stroke="#3a3a3a" stroke-width="1.1"/>
<line x1="19.5" y1="259.1" x2="19.5" y2="256.6" stroke="#333" stroke-width="0.8" />
<text x="19.5" y="266.4" font-size="6.4" text-anchor="middle" font-weight="bold" fill="#1a1a1a" stroke="#1a1a1a" stroke-width="0.32" >540</text>
<line x1="68.43333333333334" y1="259.1" x2="68.43333333333334" y2="256.6" stroke="#333" stroke-width="0.8" />
<text x="68.43" y="266.4" font-size="6.4" text-anchor="middle" font-weight="bold" fill="#1a1a1a" stroke="#1a1a1a" stroke-width="0.32" >535</text>
<line x1="117.36666666666666" y1="259.1" x2="117.36666666666666" y2="256.6" stroke="#333" stroke-width="0.8" />
<text x="117.37" y="266.4" font-size="6.4" text-anchor="middle" font-weight="bold" fill="#1a1a1a" stroke="#1a1a1a" stroke-width="0.32" >530</text>
<line x1="166.3" y1="259.1" x2="166.3" y2="256.6" stroke="#333" stroke-width="0.8" />
<text x="166.3" y="266.4" font-size="6.4" text-anchor="middle" font-weight="bold" fill="#1a1a1a" stroke="#1a1a1a" stroke-width="0.32" >525</text>
<line x1="43.96666666666667" y1="259.1" x2="43.96666666666667" y2="257.6" stroke="#333" stroke-width="0.8" />
<line x1="92.9" y1="259.1" x2="92.9" y2="257.6" stroke="#333" stroke-width="0.8" />
<line x1="141.83333333333334" y1="259.1" x2="141.83333333333334" y2="257.6" stroke="#333" stroke-width="0.8" />
<text x="55.7" y="280.4" font-size="8.2" text-anchor="start" font-weight="bold" fill="#1a1a1a" stroke="#1a1a1a" stroke-width="0.32" textLength="75" lengthAdjust="spacingAndGlyphs" >Binding Energy (eV)</text>
<text transform="translate(9.6,210.5) rotate(-90)" x="0" y="0" font-size="8.6" text-anchor="middle" font-weight="bold" fill="#1a1a1a" stroke="#1a1a1a" stroke-width="0.32" textLength="56" lengthAdjust="spacingAndGlyphs">Intensity (a.u.)</text>
<text x="23.75" y="162.3" font-size="6.8" text-anchor="start" font-weight="bold" fill="#1a1a1a" stroke="#1a1a1a" stroke-width="0.32" textLength="14" lengthAdjust="spacingAndGlyphs" >O 1s</text>
<path d="M19.50,197.30 L20.00,197.31 L20.50,197.32 L21.00,197.32 L21.50,197.33 L22.00,197.34 L22.50,197.35 L23.00,197.35 L23.50,197.36 L24.00,197.37 L24.50,197.38 L25.00,197.39 L25.50,197.39 L26.00,197.40 L26.50,197.41 L27.00,197.42 L27.50,197.43 L28.00,197.43 L28.50,197.44 L29.00,197.45 L29.50,197.46 L30.00,197.46 L30.50,197.47 L31.00,197.48 L31.50,197.49 L32.00,197.50 L32.50,197.50 L33.00,197.51 L33.50,197.52 L34.00,197.53 L34.50,197.54 L35.00,197.54 L35.50,197.55 L36.00,197.56 L36.50,197.57 L37.00,197.57 L37.50,197.58 L38.00,197.59 L38.50,197.60 L39.00,197.61 L39.50,197.61 L40.00,197.62 L40.50,197.63 L41.00,197.64 L41.50,197.64 L42.00,197.65 L42.50,197.66 L43.00,197.67 L43.50,197.68 L44.00,197.68 L44.50,197.69 L45.00,197.70 L45.50,197.71 L46.00,197.72 L46.50,197.72 L47.00,197.73 L47.50,197.74 L48.00,197.75 L48.50,197.75 L49.00,197.76 L49.50,197.77 L50.00,197.78 L50.50,197.79 L51.00,197.79 L51.50,197.80 L52.00,197.81 L52.50,197.82 L53.00,197.82 L53.50,197.83 L54.00,197.84 L54.50,197.85 L55.00,197.86 L55.50,197.86 L56.00,197.87 L56.50,197.88 L57.00,197.89 L57.50,197.89 L58.00,197.90 L58.50,197.91 L59.00,197.92 L59.50,197.92 L60.00,197.93 L60.50,197.94 L61.00,197.94 L61.50,197.95 L62.00,197.96 L62.50,197.96 L63.00,197.97 L63.50,197.98 L64.00,197.98 L64.50,197.99 L65.00,197.99 L65.50,198.00 L66.00,198.00 L66.50,198.00 L67.00,198.00 L67.50,198.01 L68.00,198.01 L68.50,198.00 L69.00,198.00 L69.50,198.00 L70.00,197.99 L70.50,197.99 L71.00,197.98 L71.50,197.97 L72.00,197.95 L72.50,197.94 L73.00,197.92 L73.50,197.89 L74.00,197.87 L74.50,197.84 L75.00,197.80 L75.50,197.76 L76.00,197.72 L76.50,197.67 L77.00,197.61 L77.50,197.55 L78.00,197.48 L78.50,197.40 L79.00,197.32 L79.50,197.23 L80.00,197.13 L80.50,197.02 L81.00,196.90 L81.50,196.77 L82.00,196.63 L82.50,196.47 L83.00,196.31 L83.50,196.14 L84.00,195.95 L84.50,195.75 L85.00,195.54 L85.50,195.32 L86.00,195.08 L86.50,194.84 L87.00,194.58 L87.50,194.31 L88.00,194.02 L88.50,193.73 L89.00,193.42 L89.50,193.11 L90.00,192.78 L90.50,192.45 L91.00,192.11 L91.50,191.76 L92.00,191.41 L92.50,191.05 L93.00,190.69 L93.50,190.33 L94.00,189.97 L94.50,189.61 L95.00,189.25 L95.50,188.90 L96.00,188.56 L96.50,188.22 L97.00,187.89 L97.50,187.58 L98.00,187.28 L98.50,186.99 L99.00,186.72 L99.50,186.47 L100.00,186.24 L100.50,186.03 L101.00,185.84 L101.50,185.67 L102.00,185.53 L102.50,185.42 L103.00,185.33 L103.50,185.27 L104.00,185.24 L104.50,185.23 L105.00,185.26 L105.50,185.31 L106.00,185.41 L106.50,185.53 L107.00,185.68 L107.50,185.87 L108.00,186.08 L108.50,186.32 L109.00,186.59 L109.50,186.88 L110.00,187.20 L110.50,187.53 L111.00,187.89 L111.50,188.25 L112.00,188.63 L112.50,189.03 L113.00,189.43 L113.50,189.84 L114.00,190.25 L114.50,190.66 L115.00,191.07 L115.50,191.49 L116.00,191.89 L116.50,192.30 L117.00,192.69 L117.50,193.08 L118.00,193.46 L118.50,193.82 L119.00,194.18 L119.50,194.52 L120.00,194.84 L120.50,195.16 L121.00,195.46 L121.50,195.74 L122.00,196.01 L122.50,196.26 L123.00,196.50 L123.50,196.73 L124.00,196.94 L124.50,197.13 L125.00,197.31 L125.50,197.48 L126.00,197.64 L126.50,197.78 L127.00,197.92 L127.50,198.04 L128.00,198.15 L128.50,198.26 L129.00,198.35 L129.50,198.43 L130.00,198.51 L130.50,198.58 L131.00,198.65 L131.50,198.70 L132.00,198.76 L132.50,198.80 L133.00,198.85 L133.50,198.89 L134.00,198.92 L134.50,198.95 L135.00,198.98 L135.50,199.01 L136.00,199.03 L136.50,199.05 L137.00,199.07 L137.50,199.09 L138.00,199.11 L138.50,199.12 L139.00,199.14 L139.50,199.15 L140.00,199.16 L140.50,199.18 L141.00,199.19 L141.50,199.20 L142.00,199.21 L142.50,199.22 L143.00,199.23 L143.50,199.24 L144.00,199.25 L144.50,199.25 L145.00,199.26 L145.50,199.27 L146.00,199.28 L146.50,199.29 L147.00,199.30 L147.50,199.30 L148.00,199.31 L148.50,199.32 L149.00,199.33 L149.50,199.34 L150.00,199.34 L150.50,199.35 L151.00,199.36 L151.50,199.37 L152.00,199.38 L152.50,199.38 L153.00,199.39 L153.50,199.40 L154.00,199.41 L154.50,199.42 L155.00,199.42 L155.50,199.43 L156.00,199.44 L156.50,199.45 L157.00,199.45 L157.50,199.46 L158.00,199.47 L158.50,199.48 L159.00,199.49 L159.50,199.49 L160.00,199.50 L160.50,199.51 L161.00,199.52 L161.50,199.52 L162.00,199.53 L162.50,199.54 L163.00,199.55 L163.50,199.56 L164.00,199.56 L164.50,199.57 L165.00,199.58 L165.50,199.59 L166.00,199.60 L166.00,200.40 L165.50,200.39 L165.00,200.38 L164.50,200.37 L164.00,200.36 L163.50,200.36 L163.00,200.35 L162.50,200.34 L162.00,200.33 L161.50,200.32 L161.00,200.32 L160.50,200.31 L160.00,200.30 L159.50,200.29 L159.00,200.29 L158.50,200.28 L158.00,200.27 L157.50,200.26 L157.00,200.25 L156.50,200.25 L156.00,200.24 L155.50,200.23 L155.00,200.22 L154.50,200.22 L154.00,200.21 L153.50,200.20 L153.00,200.19 L152.50,200.18 L152.00,200.18 L151.50,200.17 L151.00,200.16 L150.50,200.15 L150.00,200.14 L149.50,200.14 L149.00,200.13 L148.50,200.12 L148.00,200.11 L147.50,200.11 L147.00,200.10 L146.50,200.09 L146.00,200.08 L145.50,200.07 L145.00,200.07 L144.50,200.06 L144.00,200.05 L143.50,200.04 L143.00,200.03 L142.50,200.03 L142.00,200.02 L141.50,200.01 L141.00,200.00 L140.50,200.00 L140.00,199.99 L139.50,199.98 L139.00,199.97 L138.50,199.96 L138.00,199.96 L137.50,199.95 L137.00,199.94 L136.50,199.93 L136.00,199.93 L135.50,199.92 L135.00,199.91 L134.50,199.90 L134.00,199.89 L133.50,199.89 L133.00,199.88 L132.50,199.87 L132.00,199.86 L131.50,199.85 L131.00,199.85 L130.50,199.84 L130.00,199.83 L129.50,199.82 L129.00,199.82 L128.50,199.81 L128.00,199.80 L127.50,199.79 L127.00,199.78 L126.50,199.78 L126.00,199.77 L125.50,199.76 L125.00,199.75 L124.50,199.75 L124.00,199.74 L123.50,199.73 L123.00,199.72 L122.50,199.71 L122.00,199.71 L121.50,199.70 L121.00,199.69 L120.50,199.68 L120.00,199.67 L119.50,199.67 L119.00,199.66 L118.50,199.65 L118.00,199.64 L117.50,199.64 L117.00,199.63 L116.50,199.62 L116.00,199.61 L115.50,199.60 L115.00,199.60 L114.50,199.59 L114.00,199.58 L113.50,199.57 L113.00,199.56 L112.50,199.56 L112.00,199.55 L111.50,199.54 L111.00,199.53 L110.50,199.53 L110.00,199.52 L109.50,199.51 L109.00,199.50 L108.50,199.49 L108.00,199.49 L107.50,199.48 L107.00,199.47 L106.50,199.46 L106.00,199.46 L105.50,199.45 L105.00,199.44 L104.50,199.43 L104.00,199.42 L103.50,199.42 L103.00,199.41 L102.50,199.40 L102.00,199.39 L101.50,199.38 L101.00,199.38 L100.50,199.37 L100.00,199.36 L99.50,199.35 L99.00,199.35 L98.50,199.34 L98.00,199.33 L97.50,199.32 L97.00,199.31 L96.50,199.31 L96.00,199.30 L95.50,199.29 L95.00,199.28 L94.50,199.28 L94.00,199.27 L93.50,199.26 L93.00,199.25 L92.50,199.24 L92.00,199.24 L91.50,199.23 L91.00,199.22 L90.50,199.21 L90.00,199.20 L89.50,199.20 L89.00,199.19 L88.50,199.18 L88.00,199.17 L87.50,199.17 L87.00,199.16 L86.50,199.15 L86.00,199.14 L85.50,199.13 L85.00,199.13 L84.50,199.12 L84.00,199.11 L83.50,199.10 L83.00,199.09 L82.50,199.09 L82.00,199.08 L81.50,199.07 L81.00,199.06 L80.50,199.06 L80.00,199.05 L79.50,199.04 L79.00,199.03 L78.50,199.02 L78.00,199.02 L77.50,199.01 L77.00,199.00 L76.50,198.99 L76.00,198.99 L75.50,198.98 L75.00,198.97 L74.50,198.96 L74.00,198.95 L73.50,198.95 L73.00,198.94 L72.50,198.93 L72.00,198.92 L71.50,198.91 L71.00,198.91 L70.50,198.90 L70.00,198.89 L69.50,198.88 L69.00,198.88 L68.50,198.87 L68.00,198.86 L67.50,198.85 L67.00,198.84 L66.50,198.84 L66.00,198.83 L65.50,198.82 L65.00,198.81 L64.50,198.81 L64.00,198.80 L63.50,198.79 L63.00,198.78 L62.50,198.77 L62.00,198.77 L61.50,198.76 L61.00,198.75 L60.50,198.74 L60.00,198.73 L59.50,198.73 L59.00,198.72 L58.50,198.71 L58.00,198.70 L57.50,198.70 L57.00,198.69 L56.50,198.68 L56.00,198.67 L55.50,198.66 L55.00,198.66 L54.50,198.65 L54.00,198.64 L53.50,198.63 L53.00,198.62 L52.50,198.62 L52.00,198.61 L51.50,198.60 L51.00,198.59 L50.50,198.59 L50.00,198.58 L49.50,198.57 L49.00,198.56 L48.50,198.55 L48.00,198.55 L47.50,198.54 L47.00,198.53 L46.50,198.52 L46.00,198.52 L45.50,198.51 L45.00,198.50 L44.50,198.49 L44.00,198.48 L43.50,198.48 L43.00,198.47 L42.50,198.46 L42.00,198.45 L41.50,198.44 L41.00,198.44 L40.50,198.43 L40.00,198.42 L39.50,198.41 L39.00,198.41 L38.50,198.40 L38.00,198.39 L37.50,198.38 L37.00,198.37 L36.50,198.37 L36.00,198.36 L35.50,198.35 L35.00,198.34 L34.50,198.34 L34.00,198.33 L33.50,198.32 L33.00,198.31 L32.50,198.30 L32.00,198.30 L31.50,198.29 L31.00,198.28 L30.50,198.27 L30.00,198.26 L29.50,198.26 L29.00,198.25 L28.50,198.24 L28.00,198.23 L27.50,198.23 L27.00,198.22 L26.50,198.21 L26.00,198.20 L25.50,198.19 L25.00,198.19 L24.50,198.18 L24.00,198.17 L23.50,198.16 L23.00,198.15 L22.50,198.15 L22.00,198.14 L21.50,198.13 L21.00,198.12 L20.50,198.12 L20.00,198.11 L19.50,198.10 Z" stroke="none" fill="#3b8ee6" stroke-width="1.0" />
<path d="M106.50,198.39 L107.00,198.28 L107.50,198.12 L108.00,197.89 L108.50,197.59 L109.00,197.18 L109.50,196.65 L110.00,195.97 L110.50,195.12 L111.00,194.07 L111.50,192.80 L112.00,191.29 L112.50,189.54 L113.00,187.53 L113.50,185.28 L114.00,182.82 L114.50,180.18 L115.00,177.43 L115.50,174.63 L116.00,171.87 L116.50,169.23 L117.00,166.81 L117.50,164.70 L118.00,163.00 L118.50,161.76 L119.00,161.04 L119.50,160.87 L120.00,161.15 L120.50,161.80 L121.00,162.79 L121.50,164.08 L122.00,165.62 L122.50,167.36 L123.00,169.24 L123.50,171.22 L124.00,173.25 L124.50,175.30 L125.00,177.32 L125.50,179.30 L126.00,181.21 L126.50,183.02 L127.00,184.73 L127.50,186.32 L128.00,187.78 L128.50,189.12 L129.00,190.34 L129.50,191.42 L130.00,192.39 L130.50,193.24 L131.00,193.99 L131.50,194.64 L132.00,195.21 L132.50,195.69 L133.00,196.11 L133.50,196.46 L134.00,196.76 L134.50,197.01 L135.00,197.23 L135.50,197.41 L136.00,197.57 L136.50,197.71 L137.00,197.82 L137.50,197.92 L138.00,198.01 L138.50,198.09 L139.00,198.16 L139.50,198.22 L140.00,198.28 L140.50,198.33 L141.00,198.38 L141.50,198.42 L142.00,198.46 L142.50,198.50 L143.00,198.54 L143.50,198.58 L144.00,198.61 L144.50,198.64 L145.00,198.67 L145.50,198.70 L146.00,198.73 L146.50,198.76 L147.00,198.78 L147.50,198.81 L148.00,198.83 L148.50,198.86 L149.00,198.88 L149.50,198.90 L150.00,198.92 L150.50,198.94 L151.00,198.96 L151.50,198.98 L152.00,199.00 L152.50,199.02 L153.00,199.04 L153.50,199.06 L154.00,199.07 L154.50,199.09 L155.00,199.11 L155.50,199.12 L156.00,199.14 L156.50,199.16 L157.00,199.17 L157.50,199.19 L158.00,199.20 L158.50,199.22 L159.00,199.23 L159.50,199.24 L160.00,199.26 L160.50,199.27 L161.00,199.28 L161.50,199.30 L162.00,199.31 L162.50,199.32 L163.00,199.34 L163.50,199.35 L164.00,199.36 L164.00,199.56 L163.50,199.56 L163.00,199.55 L162.50,199.54 L162.00,199.53 L161.50,199.52 L161.00,199.52 L160.50,199.51 L160.00,199.50 L159.50,199.49 L159.00,199.49 L158.50,199.48 L158.00,199.47 L157.50,199.46 L157.00,199.45 L156.50,199.45 L156.00,199.44 L155.50,199.43 L155.00,199.42 L154.50,199.42 L154.00,199.41 L153.50,199.40 L153.00,199.39 L152.50,199.38 L152.00,199.38 L151.50,199.37 L151.00,199.36 L150.50,199.35 L150.00,199.34 L149.50,199.34 L149.00,199.33 L148.50,199.32 L148.00,199.31 L147.50,199.31 L147.00,199.30 L146.50,199.29 L146.00,199.28 L145.50,199.27 L145.00,199.27 L144.50,199.26 L144.00,199.25 L143.50,199.24 L143.00,199.23 L142.50,199.23 L142.00,199.22 L141.50,199.21 L141.00,199.20 L140.50,199.20 L140.00,199.19 L139.50,199.18 L139.00,199.17 L138.50,199.16 L138.00,199.16 L137.50,199.15 L137.00,199.14 L136.50,199.13 L136.00,199.13 L135.50,199.12 L135.00,199.11 L134.50,199.10 L134.00,199.09 L133.50,199.09 L133.00,199.08 L132.50,199.07 L132.00,199.06 L131.50,199.05 L131.00,199.05 L130.50,199.04 L130.00,199.03 L129.50,199.02 L129.00,199.02 L128.50,199.01 L128.00,199.00 L127.50,198.99 L127.00,198.98 L126.50,198.98 L126.00,198.97 L125.50,198.96 L125.00,198.95 L124.50,198.95 L124.00,198.94 L123.50,198.93 L123.00,198.92 L122.50,198.91 L122.00,198.91 L121.50,198.90 L121.00,198.89 L120.50,198.88 L120.00,198.87 L119.50,198.87 L119.00,198.86 L118.50,198.85 L118.00,198.84 L117.50,198.84 L117.00,198.83 L116.50,198.82 L116.00,198.81 L115.50,198.80 L115.00,198.80 L114.50,198.79 L114.00,198.78 L113.50,198.77 L113.00,198.76 L112.50,198.76 L112.00,198.75 L111.50,198.74 L111.00,198.73 L110.50,198.73 L110.00,198.72 L109.50,198.71 L109.00,198.70 L108.50,198.69 L108.00,198.69 L107.50,198.68 L107.00,198.67 L106.50,198.66 Z" stroke="none" fill="#f27cb2" stroke-width="1.0" fill-opacity="0.9"/>
<path d="M45.50,197.21 L46.00,197.22 L46.50,197.22 L47.00,197.23 L47.50,197.24 L48.00,197.25 L48.50,197.25 L49.00,197.26 L49.50,197.27 L50.00,197.28 L50.50,197.29 L51.00,197.29 L51.50,197.30 L52.00,197.31 L52.50,197.32 L53.00,197.32 L53.50,197.33 L54.00,197.34 L54.50,197.35 L55.00,197.36 L55.50,197.36 L56.00,197.37 L56.50,197.38 L57.00,197.39 L57.50,197.39 L58.00,197.40 L58.50,197.41 L59.00,197.42 L59.50,197.42 L60.00,197.43 L60.50,197.44 L61.00,197.44 L61.50,197.45 L62.00,197.46 L62.50,197.46 L63.00,197.47 L63.50,197.48 L64.00,197.48 L64.50,197.49 L65.00,197.49 L65.50,197.50 L66.00,197.50 L66.50,197.50 L67.00,197.50 L67.50,197.51 L68.00,197.51 L68.50,197.50 L69.00,197.50 L69.50,197.50 L70.00,197.49 L70.50,197.49 L71.00,197.48 L71.50,197.47 L72.00,197.45 L72.50,197.44 L73.00,197.42 L73.50,197.39 L74.00,197.37 L74.50,197.34 L75.00,197.30 L75.50,197.26 L76.00,197.22 L76.50,197.17 L77.00,197.11 L77.50,197.05 L78.00,196.98 L78.50,196.90 L79.00,196.82 L79.50,196.73 L80.00,196.63 L80.50,196.52 L81.00,196.40 L81.50,196.27 L82.00,196.13 L82.50,195.97 L83.00,195.81 L83.50,195.64 L84.00,195.45 L84.50,195.25 L85.00,195.04 L85.50,194.82 L86.00,194.58 L86.50,194.34 L87.00,194.08 L87.50,193.81 L88.00,193.52 L88.50,193.23 L89.00,192.92 L89.50,192.61 L90.00,192.28 L90.50,191.95 L91.00,191.61 L91.50,191.26 L92.00,190.91 L92.50,190.55 L93.00,190.19 L93.50,189.83 L94.00,189.47 L94.50,189.11 L95.00,188.75 L95.50,188.40 L96.00,188.06 L96.50,187.72 L97.00,187.39 L97.50,187.08 L98.00,186.78 L98.50,186.49 L99.00,186.22 L99.50,185.97 L100.00,185.74 L100.50,185.53 L101.00,185.34 L101.50,185.17 L102.00,185.03 L102.50,184.91 L103.00,184.82 L103.50,184.76 L104.00,184.71 L104.50,184.69 L105.00,184.70 L105.50,184.72 L106.00,184.77 L106.50,184.83 L107.00,184.89 L107.50,184.95 L108.00,184.98 L108.50,184.99 L109.00,184.93 L109.50,184.81 L110.00,184.58 L110.50,184.23 L111.00,183.72 L111.50,183.04 L112.00,182.17 L112.50,181.08 L113.00,179.76 L113.50,178.22 L114.00,176.47 L114.50,174.54 L115.00,172.47 L115.50,170.31 L116.00,168.13 L116.50,166.02 L117.00,164.05 L117.50,162.33 L118.00,160.92 L118.50,159.91 L119.00,159.35 L119.50,159.29 L120.00,159.62 L120.50,160.30 L121.00,161.30 L121.50,162.59 L122.00,164.13 L122.50,165.86 L123.00,167.74 L123.50,169.72 L124.00,171.76 L124.50,173.83 L125.00,175.88 L125.50,177.90 L126.00,179.84 L126.50,181.70 L127.00,183.46 L127.50,185.10 L128.00,186.62 L128.50,188.02 L129.00,189.28 L129.50,190.42 L130.00,191.44 L130.50,192.34 L131.00,193.13 L131.50,193.82 L132.00,194.42 L132.50,194.94 L133.00,195.39 L133.50,195.77 L134.00,196.09 L134.50,196.37 L135.00,196.61 L135.50,196.81 L136.00,196.98 L136.50,197.13 L137.00,197.26 L137.50,197.37 L138.00,197.46 L138.50,197.55 L139.00,197.62 L139.50,197.69 L140.00,197.75 L140.50,197.81 L141.00,197.86 L141.50,197.91 L142.00,197.95 L142.50,197.99 L143.00,198.03 L143.50,198.07 L144.00,198.10 L144.50,198.14 L145.00,198.17 L145.50,198.20 L146.00,198.23 L146.50,198.26 L147.00,198.28 L147.50,198.31 L148.00,198.33 L148.50,198.36 L149.00,198.38 L149.50,198.40 L150.00,198.42 L150.50,198.44 L151.00,198.46 L151.50,198.48 L152.00,198.50 L152.50,198.52 L153.00,198.54 L153.50,198.56 L154.00,198.57 L154.50,198.59 L155.00,198.61 L155.50,198.62 L156.00,198.64 L156.50,198.66 L157.00,198.67 L157.50,198.69 L158.00,198.70 L158.50,198.72 L159.00,198.73 L159.50,198.74 L160.00,198.76 L160.50,198.77 L161.00,198.78 L161.50,198.80 L162.00,198.81 L162.50,198.82 L163.00,198.84 L163.50,198.85 L164.00,198.86 L164.50,198.87 L165.00,198.89 L165.50,198.90 L166.00,198.91" stroke="#1a1a1a" fill="none" stroke-width="1.0" />
<path d="M19.50,197.30 L166.30,199.60" stroke="#2f86e0" fill="none" stroke-width="1.2" />
<text x="58.7" y="178.4" font-size="5.6" text-anchor="start" font-weight="bold" fill="#1a1a1a" stroke="#1a1a1a" stroke-width="0.32" textLength="44.8" lengthAdjust="spacingAndGlyphs" >Absorbed Oxygen</text>
<line x1="88" y1="179.5" x2="96.1" y2="184.6" stroke="#222" stroke-width="0.6" />
<text x="127.5" y="176.6" font-size="5.6" text-anchor="start" font-weight="bold" fill="#1a1a1a" stroke="#1a1a1a" stroke-width="0.32" textLength="37" lengthAdjust="spacingAndGlyphs" >Lattice Oxygen</text>
<line x1="129.6" y1="177.3" x2="124.2" y2="186" stroke="#222" stroke-width="0.6" />
<text x="22.6" y="206.8" font-size="6.6" text-anchor="start" font-weight="bold" fill="#1a1a1a" stroke="#1a1a1a" stroke-width="0.32" textLength="40.2" lengthAdjust="spacingAndGlyphs" >RuO<tspan font-size="3.96" dy="1.85">2</tspan><tspan dy="-1.85">​</tspan>/Co<tspan font-size="3.96" dy="1.85">3</tspan><tspan dy="-1.85">​</tspan>O<tspan font-size="3.96" dy="1.85">4</tspan><tspan dy="-1.85">​</tspan>/CC</text>
<path d="M19.50,245.50 L20.00,245.51 L20.50,245.52 L21.00,245.54 L21.50,245.55 L22.00,245.56 L22.50,245.57 L23.00,245.58 L23.50,245.60 L24.00,245.61 L24.50,245.62 L25.00,245.63 L25.50,245.64 L26.00,245.65 L26.50,245.67 L27.00,245.68 L27.50,245.69 L28.00,245.70 L28.50,245.71 L29.00,245.73 L29.50,245.74 L30.00,245.75 L30.50,245.76 L31.00,245.77 L31.50,245.79 L32.00,245.80 L32.50,245.81 L33.00,245.82 L33.50,245.83 L34.00,245.85 L34.50,245.86 L35.00,245.87 L35.50,245.88 L36.00,245.89 L36.50,245.91 L37.00,245.92 L37.50,245.93 L38.00,245.94 L38.50,245.95 L39.00,245.96 L39.50,245.98 L40.00,245.99 L40.50,246.00 L41.00,246.01 L41.50,246.02 L42.00,246.04 L42.50,246.05 L43.00,246.06 L43.50,246.07 L44.00,246.08 L44.50,246.10 L45.00,246.11 L45.50,246.12 L46.00,246.13 L46.50,246.14 L47.00,246.16 L47.50,246.17 L48.00,246.18 L48.50,246.19 L49.00,246.20 L49.50,246.22 L50.00,246.23 L50.50,246.24 L51.00,246.25 L51.50,246.26 L52.00,246.27 L52.50,246.29 L53.00,246.30 L53.50,246.31 L54.00,246.32 L54.50,246.33 L55.00,246.34 L55.50,246.36 L56.00,246.37 L56.50,246.38 L57.00,246.39 L57.50,246.40 L58.00,246.41 L58.50,246.42 L59.00,246.44 L59.50,246.45 L60.00,246.46 L60.50,246.47 L61.00,246.48 L61.50,246.49 L62.00,246.50 L62.50,246.50 L63.00,246.51 L63.50,246.52 L64.00,246.53 L64.50,246.53 L65.00,246.54 L65.50,246.54 L66.00,246.55 L66.50,246.55 L67.00,246.55 L67.50,246.55 L68.00,246.55 L68.50,246.54 L69.00,246.54 L69.50,246.53 L70.00,246.52 L70.50,246.51 L71.00,246.49 L71.50,246.47 L72.00,246.45 L72.50,246.42 L73.00,246.39 L73.50,246.35 L74.00,246.31 L74.50,246.27 L75.00,246.22 L75.50,246.16 L76.00,246.09 L76.50,246.02 L77.00,245.95 L77.50,245.86 L78.00,245.77 L78.50,245.67 L79.00,245.56 L79.50,245.44 L80.00,245.32 L80.50,245.18 L81.00,245.04 L81.50,244.88 L82.00,244.72 L82.50,244.54 L83.00,244.36 L83.50,244.16 L84.00,243.96 L84.50,243.75 L85.00,243.53 L85.50,243.30 L86.00,243.06 L86.50,242.81 L87.00,242.56 L87.50,242.30 L88.00,242.03 L88.50,241.76 L89.00,241.48 L89.50,241.21 L90.00,240.93 L90.50,240.65 L91.00,240.37 L91.50,240.09 L92.00,239.81 L92.50,239.54 L93.00,239.28 L93.50,239.02 L94.00,238.77 L94.50,238.53 L95.00,238.30 L95.50,238.09 L96.00,237.89 L96.50,237.70 L97.00,237.53 L97.50,237.37 L98.00,237.24 L98.50,237.12 L99.00,237.02 L99.50,236.95 L100.00,236.89 L100.50,236.86 L101.00,236.85 L101.50,236.86 L102.00,236.89 L102.50,236.95 L103.00,237.03 L103.50,237.13 L104.00,237.26 L104.50,237.41 L105.00,237.58 L105.50,237.77 L106.00,237.97 L106.50,238.20 L107.00,238.44 L107.50,238.69 L108.00,238.96 L108.50,239.24 L109.00,239.53 L109.50,239.83 L110.00,240.14 L110.50,240.45 L111.00,240.76 L111.50,241.08 L112.00,241.40 L112.50,241.72 L113.00,242.03 L113.50,242.34 L114.00,242.65 L114.50,242.96 L115.00,243.25 L115.50,243.54 L116.00,243.82 L116.50,244.10 L117.00,244.36 L117.50,244.61 L118.00,244.86 L118.50,245.09 L119.00,245.31 L119.50,245.52 L120.00,245.73 L120.50,245.92 L121.00,246.10 L121.50,246.27 L122.00,246.43 L122.50,246.58 L123.00,246.71 L123.50,246.85 L124.00,246.97 L124.50,247.08 L125.00,247.19 L125.50,247.28 L126.00,247.37 L126.50,247.46 L127.00,247.53 L127.50,247.60 L128.00,247.67 L128.50,247.73 L129.00,247.78 L129.50,247.83 L130.00,247.88 L130.50,247.92 L131.00,247.96 L131.50,248.00 L132.00,248.03 L132.50,248.07 L133.00,248.09 L133.50,248.12 L134.00,248.15 L134.50,248.17 L135.00,248.19 L135.50,248.21 L136.00,248.23 L136.50,248.25 L137.00,248.27 L137.50,248.29 L138.00,248.30 L138.50,248.32 L139.00,248.33 L139.50,248.35 L140.00,248.36 L140.50,248.37 L141.00,248.39 L141.50,248.40 L142.00,248.41 L142.50,248.43 L143.00,248.44 L143.50,248.45 L144.00,248.47 L144.50,248.48 L145.00,248.49 L145.50,248.50 L146.00,248.51 L146.50,248.53 L147.00,248.54 L147.50,248.55 L148.00,248.56 L148.50,248.58 L149.00,248.59 L149.50,248.60 L150.00,248.61 L150.50,248.62 L151.00,248.64 L151.50,248.65 L152.00,248.66 L152.50,248.67 L153.00,248.68 L153.50,248.69 L154.00,248.71 L154.50,248.72 L155.00,248.73 L155.50,248.74 L156.00,248.75 L156.50,248.77 L157.00,248.78 L157.50,248.79 L158.00,248.80 L158.50,248.81 L159.00,248.83 L159.50,248.84 L160.00,248.85 L160.50,248.86 L161.00,248.87 L161.50,248.89 L162.00,248.90 L162.50,248.91 L163.00,248.92 L163.50,248.93 L164.00,248.95 L164.50,248.96 L165.00,248.97 L165.50,248.98 L166.00,248.99 L166.00,249.79 L165.50,249.78 L165.00,249.77 L164.50,249.76 L164.00,249.75 L163.50,249.73 L163.00,249.72 L162.50,249.71 L162.00,249.70 L161.50,249.69 L161.00,249.67 L160.50,249.66 L160.00,249.65 L159.50,249.64 L159.00,249.63 L158.50,249.61 L158.00,249.60 L157.50,249.59 L157.00,249.58 L156.50,249.57 L156.00,249.55 L155.50,249.54 L155.00,249.53 L154.50,249.52 L154.00,249.51 L153.50,249.49 L153.00,249.48 L152.50,249.47 L152.00,249.46 L151.50,249.45 L151.00,249.44 L150.50,249.42 L150.00,249.41 L149.50,249.40 L149.00,249.39 L148.50,249.38 L148.00,249.36 L147.50,249.35 L147.00,249.34 L146.50,249.33 L146.00,249.32 L145.50,249.30 L145.00,249.29 L144.50,249.28 L144.00,249.27 L143.50,249.26 L143.00,249.24 L142.50,249.23 L142.00,249.22 L141.50,249.21 L141.00,249.20 L140.50,249.18 L140.00,249.17 L139.50,249.16 L139.00,249.15 L138.50,249.14 L138.00,249.13 L137.50,249.11 L137.00,249.10 L136.50,249.09 L136.00,249.08 L135.50,249.07 L135.00,249.05 L134.50,249.04 L134.00,249.03 L133.50,249.02 L133.00,249.01 L132.50,248.99 L132.00,248.98 L131.50,248.97 L131.00,248.96 L130.50,248.95 L130.00,248.93 L129.50,248.92 L129.00,248.91 L128.50,248.90 L128.00,248.89 L127.50,248.87 L127.00,248.86 L126.50,248.85 L126.00,248.84 L125.50,248.83 L125.00,248.82 L124.50,248.80 L124.00,248.79 L123.50,248.78 L123.00,248.77 L122.50,248.76 L122.00,248.74 L121.50,248.73 L121.00,248.72 L120.50,248.71 L120.00,248.70 L119.50,248.68 L119.00,248.67 L118.50,248.66 L118.00,248.65 L117.50,248.64 L117.00,248.62 L116.50,248.61 L116.00,248.60 L115.50,248.59 L115.00,248.58 L114.50,248.56 L114.00,248.55 L113.50,248.54 L113.00,248.53 L112.50,248.52 L112.00,248.51 L111.50,248.49 L111.00,248.48 L110.50,248.47 L110.00,248.46 L109.50,248.45 L109.00,248.43 L108.50,248.42 L108.00,248.41 L107.50,248.40 L107.00,248.39 L106.50,248.37 L106.00,248.36 L105.50,248.35 L105.00,248.34 L104.50,248.33 L104.00,248.31 L103.50,248.30 L103.00,248.29 L102.50,248.28 L102.00,248.27 L101.50,248.26 L101.00,248.24 L100.50,248.23 L100.00,248.22 L99.50,248.21 L99.00,248.20 L98.50,248.18 L98.00,248.17 L97.50,248.16 L97.00,248.15 L96.50,248.14 L96.00,248.12 L95.50,248.11 L95.00,248.10 L94.50,248.09 L94.00,248.08 L93.50,248.06 L93.00,248.05 L92.50,248.04 L92.00,248.03 L91.50,248.02 L91.00,248.00 L90.50,247.99 L90.00,247.98 L89.50,247.97 L89.00,247.96 L88.50,247.95 L88.00,247.93 L87.50,247.92 L87.00,247.91 L86.50,247.90 L86.00,247.89 L85.50,247.87 L85.00,247.86 L84.50,247.85 L84.00,247.84 L83.50,247.83 L83.00,247.81 L82.50,247.80 L82.00,247.79 L81.50,247.78 L81.00,247.77 L80.50,247.75 L80.00,247.74 L79.50,247.73 L79.00,247.72 L78.50,247.71 L78.00,247.69 L77.50,247.68 L77.00,247.67 L76.50,247.66 L76.00,247.65 L75.50,247.64 L75.00,247.62 L74.50,247.61 L74.00,247.60 L73.50,247.59 L73.00,247.58 L72.50,247.56 L72.00,247.55 L71.50,247.54 L71.00,247.53 L70.50,247.52 L70.00,247.50 L69.50,247.49 L69.00,247.48 L68.50,247.47 L68.00,247.46 L67.50,247.44 L67.00,247.43 L66.50,247.42 L66.00,247.41 L65.50,247.40 L65.00,247.38 L64.50,247.37 L64.00,247.36 L63.50,247.35 L63.00,247.34 L62.50,247.33 L62.00,247.31 L61.50,247.30 L61.00,247.29 L60.50,247.28 L60.00,247.27 L59.50,247.25 L59.00,247.24 L58.50,247.23 L58.00,247.22 L57.50,247.21 L57.00,247.19 L56.50,247.18 L56.00,247.17 L55.50,247.16 L55.00,247.15 L54.50,247.13 L54.00,247.12 L53.50,247.11 L53.00,247.10 L52.50,247.09 L52.00,247.07 L51.50,247.06 L51.00,247.05 L50.50,247.04 L50.00,247.03 L49.50,247.02 L49.00,247.00 L48.50,246.99 L48.00,246.98 L47.50,246.97 L47.00,246.96 L46.50,246.94 L46.00,246.93 L45.50,246.92 L45.00,246.91 L44.50,246.90 L44.00,246.88 L43.50,246.87 L43.00,246.86 L42.50,246.85 L42.00,246.84 L41.50,246.82 L41.00,246.81 L40.50,246.80 L40.00,246.79 L39.50,246.78 L39.00,246.76 L38.50,246.75 L38.00,246.74 L37.50,246.73 L37.00,246.72 L36.50,246.71 L36.00,246.69 L35.50,246.68 L35.00,246.67 L34.50,246.66 L34.00,246.65 L33.50,246.63 L33.00,246.62 L32.50,246.61 L32.00,246.60 L31.50,246.59 L31.00,246.57 L30.50,246.56 L30.00,246.55 L29.50,246.54 L29.00,246.53 L28.50,246.51 L28.00,246.50 L27.50,246.49 L27.00,246.48 L26.50,246.47 L26.00,246.45 L25.50,246.44 L25.00,246.43 L24.50,246.42 L24.00,246.41 L23.50,246.40 L23.00,246.38 L22.50,246.37 L22.00,246.36 L21.50,246.35 L21.00,246.34 L20.50,246.32 L20.00,246.31 L19.50,246.30 Z" stroke="none" fill="#3b8ee6" stroke-width="1.0" />
<path d="M103.00,247.22 L103.50,247.12 L104.00,246.97 L104.50,246.77 L105.00,246.50 L105.50,246.15 L106.00,245.69 L106.50,245.10 L107.00,244.36 L107.50,243.46 L108.00,242.37 L108.50,241.07 L109.00,239.55 L109.50,237.81 L110.00,235.85 L110.50,233.69 L111.00,231.35 L111.50,228.87 L112.00,226.31 L112.50,223.71 L113.00,221.16 L113.50,218.73 L114.00,216.51 L114.50,214.56 L115.00,212.96 L115.50,211.78 L116.00,211.05 L116.50,210.81 L117.00,211.00 L117.50,211.55 L118.00,212.41 L118.50,213.57 L119.00,214.97 L119.50,216.57 L120.00,218.31 L120.50,220.16 L121.00,222.06 L121.50,224.00 L122.00,225.92 L122.50,227.82 L123.00,229.66 L123.50,231.42 L124.00,233.10 L124.50,234.67 L125.00,236.14 L125.50,237.49 L126.00,238.73 L126.50,239.85 L127.00,240.86 L127.50,241.77 L128.00,242.57 L128.50,243.27 L129.00,243.89 L129.50,244.42 L130.00,244.89 L130.50,245.29 L131.00,245.63 L131.50,245.92 L132.00,246.17 L132.50,246.39 L133.00,246.57 L133.50,246.73 L134.00,246.87 L134.50,246.98 L135.00,247.09 L135.50,247.18 L136.00,247.26 L136.50,247.33 L137.00,247.39 L137.50,247.45 L138.00,247.51 L138.50,247.56 L139.00,247.60 L139.50,247.65 L140.00,247.69 L140.50,247.73 L141.00,247.77 L141.50,247.80 L142.00,247.84 L142.50,247.87 L143.00,247.90 L143.50,247.93 L144.00,247.96 L144.50,247.99 L145.00,248.02 L145.50,248.05 L146.00,248.08 L146.50,248.10 L147.00,248.13 L147.50,248.15 L148.00,248.18 L148.50,248.20 L149.00,248.22 L149.50,248.24 L150.00,248.27 L150.50,248.29 L151.00,248.31 L151.50,248.33 L152.00,248.35 L152.50,248.37 L153.00,248.39 L153.50,248.41 L154.00,248.43 L154.50,248.45 L155.00,248.47 L155.50,248.49 L156.00,248.50 L156.50,248.52 L157.00,248.54 L157.50,248.56 L158.00,248.57 L158.50,248.59 L159.00,248.61 L159.50,248.63 L160.00,248.64 L160.50,248.66 L160.50,248.86 L160.00,248.85 L159.50,248.84 L159.00,248.83 L158.50,248.81 L158.00,248.80 L157.50,248.79 L157.00,248.78 L156.50,248.77 L156.00,248.75 L155.50,248.74 L155.00,248.73 L154.50,248.72 L154.00,248.71 L153.50,248.69 L153.00,248.68 L152.50,248.67 L152.00,248.66 L151.50,248.65 L151.00,248.64 L150.50,248.62 L150.00,248.61 L149.50,248.60 L149.00,248.59 L148.50,248.58 L148.00,248.56 L147.50,248.55 L147.00,248.54 L146.50,248.53 L146.00,248.52 L145.50,248.50 L145.00,248.49 L144.50,248.48 L144.00,248.47 L143.50,248.46 L143.00,248.44 L142.50,248.43 L142.00,248.42 L141.50,248.41 L141.00,248.40 L140.50,248.38 L140.00,248.37 L139.50,248.36 L139.00,248.35 L138.50,248.34 L138.00,248.33 L137.50,248.31 L137.00,248.30 L136.50,248.29 L136.00,248.28 L135.50,248.27 L135.00,248.25 L134.50,248.24 L134.00,248.23 L133.50,248.22 L133.00,248.21 L132.50,248.19 L132.00,248.18 L131.50,248.17 L131.00,248.16 L130.50,248.15 L130.00,248.13 L129.50,248.12 L129.00,248.11 L128.50,248.10 L128.00,248.09 L127.50,248.07 L127.00,248.06 L126.50,248.05 L126.00,248.04 L125.50,248.03 L125.00,248.02 L124.50,248.00 L124.00,247.99 L123.50,247.98 L123.00,247.97 L122.50,247.96 L122.00,247.94 L121.50,247.93 L121.00,247.92 L120.50,247.91 L120.00,247.90 L119.50,247.88 L119.00,247.87 L118.50,247.86 L118.00,247.85 L117.50,247.84 L117.00,247.82 L116.50,247.81 L116.00,247.80 L115.50,247.79 L115.00,247.78 L114.50,247.76 L114.00,247.75 L113.50,247.74 L113.00,247.73 L112.50,247.72 L112.00,247.71 L111.50,247.69 L111.00,247.68 L110.50,247.67 L110.00,247.66 L109.50,247.65 L109.00,247.63 L108.50,247.62 L108.00,247.61 L107.50,247.60 L107.00,247.59 L106.50,247.57 L106.00,247.56 L105.50,247.55 L105.00,247.54 L104.50,247.53 L104.00,247.51 L103.50,247.50 L103.00,247.49 Z" stroke="none" fill="#f27cb2" stroke-width="1.0" fill-opacity="0.9"/>
<path d="M45.50,245.62 L46.00,245.63 L46.50,245.64 L47.00,245.66 L47.50,245.67 L48.00,245.68 L48.50,245.69 L49.00,245.70 L49.50,245.72 L50.00,245.73 L50.50,245.74 L51.00,245.75 L51.50,245.76 L52.00,245.77 L52.50,245.79 L53.00,245.80 L53.50,245.81 L54.00,245.82 L54.50,245.83 L55.00,245.84 L55.50,245.86 L56.00,245.87 L56.50,245.88 L57.00,245.89 L57.50,245.90 L58.00,245.91 L58.50,245.92 L59.00,245.94 L59.50,245.95 L60.00,245.96 L60.50,245.97 L61.00,245.98 L61.50,245.99 L62.00,246.00 L62.50,246.00 L63.00,246.01 L63.50,246.02 L64.00,246.03 L64.50,246.03 L65.00,246.04 L65.50,246.04 L66.00,246.05 L66.50,246.05 L67.00,246.05 L67.50,246.05 L68.00,246.05 L68.50,246.04 L69.00,246.04 L69.50,246.03 L70.00,246.02 L70.50,246.01 L71.00,245.99 L71.50,245.97 L72.00,245.95 L72.50,245.92 L73.00,245.89 L73.50,245.85 L74.00,245.81 L74.50,245.77 L75.00,245.72 L75.50,245.66 L76.00,245.59 L76.50,245.52 L77.00,245.45 L77.50,245.36 L78.00,245.27 L78.50,245.17 L79.00,245.06 L79.50,244.94 L80.00,244.82 L80.50,244.68 L81.00,244.54 L81.50,244.38 L82.00,244.22 L82.50,244.04 L83.00,243.86 L83.50,243.66 L84.00,243.46 L84.50,243.25 L85.00,243.03 L85.50,242.80 L86.00,242.56 L86.50,242.31 L87.00,242.06 L87.50,241.80 L88.00,241.53 L88.50,241.26 L89.00,240.98 L89.50,240.71 L90.00,240.43 L90.50,240.15 L91.00,239.87 L91.50,239.59 L92.00,239.31 L92.50,239.04 L93.00,238.78 L93.50,238.52 L94.00,238.27 L94.50,238.03 L95.00,237.80 L95.50,237.59 L96.00,237.39 L96.50,237.20 L97.00,237.03 L97.50,236.87 L98.00,236.74 L98.50,236.62 L99.00,236.52 L99.50,236.44 L100.00,236.37 L100.50,236.33 L101.00,236.30 L101.50,236.29 L102.00,236.29 L102.50,236.30 L103.00,236.32 L103.50,236.33 L104.00,236.33 L104.50,236.31 L105.00,236.25 L105.50,236.14 L106.00,235.96 L106.50,235.69 L107.00,235.31 L107.50,234.80 L108.00,234.14 L108.50,233.30 L109.00,232.28 L109.50,231.06 L110.00,229.63 L110.50,228.02 L111.00,226.22 L111.50,224.28 L112.00,222.24 L112.50,220.13 L113.00,218.03 L113.50,216.01 L114.00,214.14 L114.50,212.49 L115.00,211.13 L115.50,210.13 L116.00,209.54 L116.50,209.38 L117.00,209.63 L117.50,210.19 L118.00,211.07 L118.50,212.23 L119.00,213.62 L119.50,215.20 L120.00,216.94 L120.50,218.78 L121.00,220.69 L121.50,222.64 L122.00,224.58 L122.50,226.50 L123.00,228.37 L123.50,230.17 L124.00,231.88 L124.50,233.50 L125.00,235.01 L125.50,236.41 L126.00,237.69 L126.50,238.86 L127.00,239.91 L127.50,240.86 L128.00,241.70 L128.50,242.44 L129.00,243.09 L129.50,243.66 L130.00,244.15 L130.50,244.58 L131.00,244.94 L131.50,245.26 L132.00,245.53 L132.50,245.76 L133.00,245.96 L133.50,246.14 L134.00,246.29 L134.50,246.41 L135.00,246.53 L135.50,246.63 L136.00,246.71 L136.50,246.79 L137.00,246.86 L137.50,246.93 L138.00,246.98 L138.50,247.04 L139.00,247.09 L139.50,247.13 L140.00,247.18 L140.50,247.22 L141.00,247.26 L141.50,247.30 L142.00,247.33 L142.50,247.37 L143.00,247.40 L143.50,247.43 L144.00,247.46 L144.50,247.49 L145.00,247.52 L145.50,247.55 L146.00,247.57 L146.50,247.60 L147.00,247.63 L147.50,247.65 L148.00,247.67 L148.50,247.70 L149.00,247.72 L149.50,247.74 L150.00,247.77 L150.50,247.79 L151.00,247.81 L151.50,247.83 L152.00,247.85 L152.50,247.87 L153.00,247.89 L153.50,247.91 L154.00,247.93 L154.50,247.95 L155.00,247.97 L155.50,247.99 L156.00,248.00 L156.50,248.02 L157.00,248.04 L157.50,248.06 L158.00,248.07 L158.50,248.09 L159.00,248.11 L159.50,248.13 L160.00,248.14 L160.50,248.16 L161.00,248.18 L161.50,248.19 L162.00,248.21 L162.50,248.22 L163.00,248.24 L163.50,248.26 L164.00,248.27 L164.50,248.29 L165.00,248.30 L165.50,248.32 L166.00,248.33" stroke="#1a1a1a" fill="none" stroke-width="1.0" />
<path d="M19.50,245.50 L166.30,249.00" stroke="#2f86e0" fill="none" stroke-width="1.2" />
<text x="22.5" y="253.1" font-size="6.6" text-anchor="start" font-weight="bold" fill="#1a1a1a" stroke="#1a1a1a" stroke-width="0.32" textLength="53" lengthAdjust="spacingAndGlyphs" >RuO<tspan font-size="3.96" dy="1.85">2</tspan><tspan dy="-1.85">​</tspan>/(Co,Mn)<tspan font-size="3.96" dy="1.85">3</tspan><tspan dy="-1.85">​</tspan>O<tspan font-size="3.96" dy="1.85">4</tspan><tspan dy="-1.85">​</tspan>/CC</text>
<text x="192.5" y="155.5" font-size="12" text-anchor="start" font-weight="bold" fill="#1a1a1a" stroke="#1a1a1a" stroke-width="0.32" >e</text>
<rect x="217" y="154.2" width="138.3" height="111.10000000000002" fill="none" stroke="#3a3a3a" stroke-width="1.1"/>
<line x1="217" y1="155.0" x2="219.5" y2="155.0" stroke="#333" stroke-width="0.8" />
<text x="213.75" y="157.2" font-size="6.4" text-anchor="end" font-weight="bold" fill="#1a1a1a" stroke="#1a1a1a" stroke-width="0.32" >6</text>
<line x1="217" y1="182.5" x2="219.5" y2="182.5" stroke="#333" stroke-width="0.8" />
<text x="213.75" y="184.7" font-size="6.4" text-anchor="end" font-weight="bold" fill="#1a1a1a" stroke="#1a1a1a" stroke-width="0.32" >4</text>
<line x1="217" y1="210.0" x2="219.5" y2="210.0" stroke="#333" stroke-width="0.8" />
<text x="213.75" y="212.2" font-size="6.4" text-anchor="end" font-weight="bold" fill="#1a1a1a" stroke="#1a1a1a" stroke-width="0.32" >2</text>
<line x1="217" y1="237.5" x2="219.5" y2="237.5" stroke="#333" stroke-width="0.8" />
<text x="213.75" y="239.7" font-size="6.4" text-anchor="end" font-weight="bold" fill="#1a1a1a" stroke="#1a1a1a" stroke-width="0.32" >0</text>
<line x1="217" y1="265.0" x2="219.5" y2="265.0" stroke="#333" stroke-width="0.8" />
<text x="213.75" y="267.2" font-size="6.4" text-anchor="end" font-weight="bold" fill="#1a1a1a" stroke="#1a1a1a" stroke-width="0.32" >-2</text>
<line x1="217" y1="168.75" x2="218.5" y2="168.75" stroke="#333" stroke-width="0.8" />
<line x1="217" y1="196.25" x2="218.5" y2="196.25" stroke="#333" stroke-width="0.8" />
<line x1="217" y1="223.75" x2="218.5" y2="223.75" stroke="#333" stroke-width="0.8" />
<line x1="217" y1="251.25" x2="218.5" y2="251.25" stroke="#333" stroke-width="0.8" />
<text transform="translate(200.4,211.5) rotate(-90)" x="0" y="0" font-size="8.6" text-anchor="middle" font-weight="bold" fill="#1a1a1a" stroke="#1a1a1a" stroke-width="0.32" textLength="68" lengthAdjust="spacingAndGlyphs">Free Energy (eV)</text>
<text x="249" y="276.5" font-size="8.6" text-anchor="start" font-weight="bold" fill="#1a1a1a" stroke="#1a1a1a" stroke-width="0.32" textLength="73.8" lengthAdjust="spacingAndGlyphs" >Reaction Pathway</text>
<path d="M217.00,237.90 L244.40,237.90 L244.40,245.90 L271.90,245.90 L271.90,243.50 L299.80,243.50 L299.80,239.25 L327.10,239.25 L327.10,237.60 L355.50,237.60" stroke="#f26464" fill="none" stroke-width="1.5" stroke-dasharray="3.4,1.8"/>
<path d="M217.00,237.90 L244.40,237.90 L244.40,253.60 L271.90,253.60 L271.90,258.70 L299.80,258.70 L299.80,259.00 L327.10,259.00 L327.10,263.20 L355.50,263.20" stroke="#3a8be6" fill="none" stroke-width="1.5" stroke-dasharray="1.5,1.3"/>
<path d="M217.00,237.90 L244.40,237.90 L244.40,249.40 L271.90,249.40 L271.90,251.80 L299.80,251.80 L299.80,251.90 L327.10,251.90 L327.10,254.00 L355.50,254.00" stroke="#f26464" fill="none" stroke-width="1.5" stroke-dasharray="1.5,1.3"/>
<path d="M217.00,237.90 L244.40,237.90 L244.40,247.00 L271.90,247.00 L271.90,246.00 L299.80,246.00 L299.80,239.25 L327.10,239.25 L327.10,237.60 L355.50,237.60" stroke="#3a8be6" fill="none" stroke-width="1.5" stroke-dasharray="3.4,1.8"/>
<path d="M217.00,237.90 L244.40,237.90 L244.40,228.20 L271.90,228.20 L271.90,209.50 L299.80,209.50 L299.80,188.10 L327.10,188.10 L327.10,169.40 L355.50,169.40" stroke="#f26464" fill="none" stroke-width="1.5" />
<path d="M217.00,237.90 L244.40,237.90 L244.40,229.80 L271.90,229.80 L271.90,211.60 L299.80,211.60 L299.80,188.10 L327.10,188.10 L327.10,169.40 L355.50,169.40" stroke="#3a8be6" fill="none" stroke-width="1.5" />
<line x1="226" y1="164.5" x2="237.8" y2="164.5" stroke="#f49a9a" stroke-width="1.5"/>
<line x1="226" y1="173.3" x2="237.8" y2="173.3" stroke="#4a9cee" stroke-width="1.5"/>
<text x="239.7" y="166.7" font-size="5.3" text-anchor="start" font-weight="bold" fill="#1a1a1a" stroke="#1a1a1a" stroke-width="0.32" textLength="41.4" lengthAdjust="spacingAndGlyphs" >RuO<tspan font-size="3.18" dy="1.48">2</tspan><tspan dy="-1.48">​</tspan>/(Co,Mn)<tspan font-size="3.18" dy="1.48">3</tspan><tspan dy="-1.48">​</tspan>O<tspan font-size="3.18" dy="1.48">4</tspan><tspan dy="-1.48">​</tspan></text>
<text x="239.7" y="175.4" font-size="5.3" text-anchor="start" font-weight="bold" fill="#1a1a1a" stroke="#1a1a1a" stroke-width="0.32" textLength="29.3" lengthAdjust="spacingAndGlyphs" >RuO<tspan font-size="3.18" dy="1.48">2</tspan><tspan dy="-1.48">​</tspan>/Co<tspan font-size="3.18" dy="1.48">3</tspan><tspan dy="-1.48">​</tspan>O<tspan font-size="3.18" dy="1.48">4</tspan><tspan dy="-1.48">​</tspan></text>
<text x="337.5" y="160" font-size="5.2" text-anchor="start" font-weight="bold" fill="#1a1a1a" stroke="#1a1a1a" stroke-width="0.32" >O<tspan font-size="3.6" dy="1">2</tspan></text>
<text x="332" y="167.5" font-size="5.2" text-anchor="start" font-weight="bold" fill="#1a1a1a" stroke="#1a1a1a" stroke-width="0.32" textLength="17.5" lengthAdjust="spacingAndGlyphs" >U = 0 V</text>
<text x="305" y="184.5" font-size="5.2" text-anchor="start" font-weight="bold" fill="#1a1a1a" stroke="#1a1a1a" stroke-width="0.32" textLength="13.75" lengthAdjust="spacingAndGlyphs" >*OOH</text>
<text x="302.5" y="202" font-size="5.8" text-anchor="start" font-weight="bold" fill="#2a7ad8" stroke="#2a7ad8" stroke-width="0.32" textLength="17" lengthAdjust="spacingAndGlyphs" >1.69 eV</text>
<text x="280" y="197.5" font-size="5.8" text-anchor="start" font-weight="bold" fill="#f05050" stroke="#f05050" stroke-width="0.32" textLength="17.5" lengthAdjust="spacingAndGlyphs" >1.53 eV</text>
<text x="282.5" y="205.5" font-size="5.2" text-anchor="start" font-weight="bold" fill="#1a1a1a" stroke="#1a1a1a" stroke-width="0.32" textLength="7.5" lengthAdjust="spacingAndGlyphs" >*O</text>
<text x="254.5" y="225" font-size="5.2" text-anchor="start" font-weight="bold" fill="#1a1a1a" stroke="#1a1a1a" stroke-width="0.32" textLength="10" lengthAdjust="spacingAndGlyphs" >*OH</text>
<text x="221.25" y="233.75" font-size="5.2" text-anchor="start" font-weight="bold" fill="#1a1a1a" stroke="#1a1a1a" stroke-width="0.32" textLength="18.25" lengthAdjust="spacingAndGlyphs" >*+2H<tspan font-size="3.6" dy="1">2</tspan><tspan dy="-1">O</tspan></text>
<text x="328" y="231.25" font-size="5.2" text-anchor="start" font-weight="bold" fill="#1a1a1a" stroke="#1a1a1a" stroke-width="0.32" textLength="24.5" lengthAdjust="spacingAndGlyphs" >U = 1.23 V</text>
<text x="328" y="250" font-size="5.2" text-anchor="start" font-weight="bold" fill="#1a1a1a" stroke="#1a1a1a" stroke-width="0.32" textLength="24.5" lengthAdjust="spacingAndGlyphs" >U = 1.53 V</text>
<text x="387.5" y="154.5" font-size="12" text-anchor="start" font-weight="bold" fill="#1a1a1a" stroke="#1a1a1a" stroke-width="0.32" >f</text>
<rect x="401.8" y="153.2" width="135.7" height="108.80000000000001" fill="none" stroke="#3a3a3a" stroke-width="1.1"/>
<line x1="402" y1="262" x2="402" y2="259.5" stroke="#333" stroke-width="0.8" />
<text x="402" y="269.5" font-size="6.4" text-anchor="middle" font-weight="bold" fill="#1a1a1a" stroke="#1a1a1a" stroke-width="0.32" >-10</text>
<line x1="447" y1="262" x2="447" y2="259.5" stroke="#333" stroke-width="0.8" />
<text x="447" y="269.5" font-size="6.4" text-anchor="middle" font-weight="bold" fill="#1a1a1a" stroke="#1a1a1a" stroke-width="0.32" >-5</text>
<line x1="492" y1="262" x2="492" y2="259.5" stroke="#333" stroke-width="0.8" />
<text x="492" y="269.5" font-size="6.4" text-anchor="middle" font-weight="bold" fill="#1a1a1a" stroke="#1a1a1a" stroke-width="0.32" >0</text>
<line x1="537" y1="262" x2="537" y2="259.5" stroke="#333" stroke-width="0.8" />
<text x="537" y="269.5" font-size="6.4" text-anchor="middle" font-weight="bold" fill="#1a1a1a" stroke="#1a1a1a" stroke-width="0.32" >5</text>
<line x1="424.5" y1="262" x2="424.5" y2="260.5" stroke="#333" stroke-width="0.8" />
<line x1="469.5" y1="262" x2="469.5" y2="260.5" stroke="#333" stroke-width="0.8" />
<line x1="514.5" y1="262" x2="514.5" y2="260.5" stroke="#333" stroke-width="0.8" />
<text x="452.4" y="281" font-size="8.4" text-anchor="start" font-weight="bold" fill="#1a1a1a" stroke="#1a1a1a" stroke-width="0.32" >E-E<tspan font-size="5.5" dy="1.5">f</tspan><tspan dy="-1.5"> (eV)</tspan></text>
<text transform="translate(391.2,210) rotate(-90)" x="0" y="0" font-size="8.6" text-anchor="middle" font-weight="bold" fill="#1a1a1a" stroke="#1a1a1a" stroke-width="0.32" textLength="64" lengthAdjust="spacingAndGlyphs">Density of State</text>
<line x1="405.5" y1="160.9" x2="415.6" y2="160.9" stroke="#5aa0ea" stroke-width="1.6"/>
<line x1="405.5" y1="168.4" x2="415.6" y2="168.4" stroke="#f28a8a" stroke-width="1.6"/>
<text x="417.2" y="162.2" font-size="5.1" text-anchor="start" font-weight="bold" fill="#1a1a1a" stroke="#1a1a1a" stroke-width="0.32" textLength="25" lengthAdjust="spacingAndGlyphs" >RuO<tspan font-size="3.06" dy="1.43">2</tspan><tspan dy="-1.43">​</tspan>/Co<tspan font-size="3.06" dy="1.43">3</tspan><tspan dy="-1.43">​</tspan>O<tspan font-size="3.06" dy="1.43">4</tspan><tspan dy="-1.43">​</tspan></text>
<text x="417.2" y="169.5" font-size="5.1" text-anchor="start" font-weight="bold" fill="#1a1a1a" stroke="#1a1a1a" stroke-width="0.32" textLength="36" lengthAdjust="spacingAndGlyphs" >RuO<tspan font-size="3.06" dy="1.43">2</tspan><tspan dy="-1.43">​</tspan>/(Co,Mn)<tspan font-size="3.06" dy="1.43">3</tspan><tspan dy="-1.43">​</tspan>O<tspan font-size="3.06" dy="1.43">4</tspan><tspan dy="-1.43">​</tspan></text>
<text x="404" y="185.6" font-size="5.8" text-anchor="start" font-weight="bold" fill="#1a1a1a" stroke="#1a1a1a" stroke-width="0.32" textLength="18" lengthAdjust="spacingAndGlyphs" >spin up</text>
<text x="403.75" y="243" font-size="5.5" text-anchor="start" font-weight="bold" fill="#1a1a1a" stroke="#1a1a1a" stroke-width="0.32" textLength="25" lengthAdjust="spacingAndGlyphs" >spin down</text>
<path d="M401.80,207.50 L421.00,207.50 L421.50,204.83 L422.00,201.56 L422.50,202.63 L423.00,199.62 L423.50,199.72 L424.00,199.56 L424.50,193.24 L425.00,196.16 L425.50,197.63 L426.00,202.33 L426.50,201.88 L427.00,202.02 L427.50,199.17 L428.00,197.72 L428.50,197.37 L429.00,201.53 L429.50,203.94 L430.00,200.48 L430.50,199.45 L431.00,203.35 L431.50,199.36 L432.00,203.10 L432.50,202.40 L433.00,202.71 L433.50,201.99 L434.00,201.20 L434.50,201.64 L435.00,198.89 L435.50,194.45 L436.00,198.24 L436.50,199.15 L437.00,199.65 L437.50,200.27 L438.00,201.71 L438.50,195.75 L439.00,200.97 L439.50,201.62 L440.00,202.41 L440.50,203.63 L441.00,202.49 L441.50,203.54 L442.00,203.41 L442.50,203.00 L443.00,203.27 L443.50,202.62 L444.00,200.00 L444.50,198.87 L445.00,199.79 L445.50,202.42 L446.00,195.29 L446.50,197.43 L447.00,201.91 L447.50,202.18 L448.00,203.13 L448.50,202.94 L449.00,203.86 L449.50,196.83 L450.00,201.19 L450.50,197.71 L451.00,202.64 L451.50,202.04 L452.00,201.13 L452.50,202.41 L453.00,202.60 L453.50,201.56 L454.00,201.12 L454.50,200.60 L455.00,202.68 L455.50,202.50 L456.00,202.70 L456.50,202.33 L457.00,200.23 L457.50,201.00 L458.00,197.82 L458.50,194.51 L459.00,198.52 L459.50,195.02 L460.00,201.50 L460.50,202.65 L461.00,203.79 L461.50,207.50 L462.00,207.50 L462.50,207.50 L463.00,207.50 L463.50,207.50 L464.00,207.50 L464.50,207.50 L465.00,207.50 L465.50,207.50 L466.00,207.50 L466.50,207.50 L467.00,207.50 L467.50,207.50 L468.00,202.24 L468.50,199.41 L469.00,201.41 L469.50,198.85 L470.00,201.11 L470.50,198.61 L471.00,199.77 L471.50,200.39 L472.00,196.69 L472.50,198.83 L473.00,198.54 L473.50,195.39 L474.00,195.54 L474.50,195.84 L475.00,197.05 L475.50,198.70 L476.00,193.99 L476.50,197.31 L477.00,193.87 L477.50,196.01 L478.00,193.83 L478.50,187.95 L479.00,195.55 L479.50,195.68 L480.00,199.05 L480.50,194.07 L481.00,197.00 L481.50,198.25 L482.00,196.63 L482.50,194.73 L483.00,194.57 L483.50,194.43 L484.00,196.80 L484.50,195.24 L485.00,199.26 L485.50,195.44 L486.00,187.29 L486.50,194.14 L487.00,193.46 L487.50,196.97 L488.00,194.80 L488.50,193.95 L489.00,198.15 L489.50,196.41 L490.00,200.04 L490.50,198.45 L491.00,193.70 L491.50,195.51 L492.00,194.88 L492.50,198.13 L493.00,195.94 L493.50,193.50 L494.00,198.84 L494.50,197.02 L495.00,195.33 L495.50,193.15 L496.00,193.25 L496.50,193.68 L497.00,198.11 L497.50,197.08 L498.00,197.33 L498.50,194.20 L499.00,195.92 L499.50,194.64 L500.00,198.80 L500.50,202.03 L501.00,190.87 L501.50,199.18 L502.00,200.61 L502.50,197.80 L503.00,196.03 L503.50,193.83 L504.00,194.04 L504.50,195.22 L505.00,200.89 L505.50,197.92 L506.00,198.39 L506.50,202.65 L507.00,203.60 L507.50,201.19 L508.00,202.29 L508.50,199.41 L509.00,201.21 L509.50,202.40 L510.00,200.92 L510.50,203.80 L511.00,204.06 L511.50,197.59 L512.00,196.50 L512.50,198.87 L513.00,202.29 L513.50,204.11 L514.00,205.18 L514.50,200.66 L515.00,197.31 L515.50,202.14 L516.00,202.73 L516.50,202.75 L517.00,198.37 L517.50,199.39 L518.00,196.84 L518.50,196.65 L519.00,202.12 L519.50,199.18 L520.00,195.52 L520.50,200.58 L521.00,197.91 L521.50,199.60 L522.00,198.14 L522.50,197.92 L523.00,202.37 L523.50,202.53 L524.00,207.50 L537.50,207.50" stroke="#3a8be6" fill="none" stroke-width="0.95" stroke-linejoin="round"/>
<path d="M401.80,207.50 L421.00,207.50 L421.50,210.47 L422.00,209.61 L422.50,214.07 L423.00,214.03 L423.50,213.48 L424.00,214.37 L424.50,213.36 L425.00,215.05 L425.50,215.71 L426.00,212.58 L426.50,211.91 L427.00,213.03 L427.50,214.97 L428.00,212.04 L428.50,213.00 L429.00,213.36 L429.50,215.35 L430.00,212.11 L430.50,210.38 L431.00,211.29 L431.50,214.67 L432.00,211.20 L432.50,218.35 L433.00,216.69 L433.50,214.97 L434.00,215.70 L434.50,212.68 L435.00,217.55 L435.50,215.22 L436.00,214.62 L436.50,211.12 L437.00,211.15 L437.50,211.72 L438.00,211.60 L438.50,213.61 L439.00,211.96 L439.50,210.66 L440.00,211.90 L440.50,213.31 L441.00,211.23 L441.50,213.90 L442.00,213.95 L442.50,212.32 L443.00,212.34 L443.50,218.80 L444.00,214.67 L444.50,214.62 L445.00,212.51 L445.50,213.15 L446.00,213.83 L446.50,218.61 L447.00,215.58 L447.50,214.29 L448.00,213.23 L448.50,213.11 L449.00,214.72 L449.50,217.46 L450.00,214.07 L450.50,211.48 L451.00,213.81 L451.50,212.28 L452.00,211.95 L452.50,212.68 L453.00,211.24 L453.50,211.65 L454.00,211.76 L454.50,213.16 L455.00,213.64 L455.50,214.55 L456.00,214.50 L456.50,214.56 L457.00,213.98 L457.50,216.53 L458.00,212.18 L458.50,210.76 L459.00,213.73 L459.50,213.00 L460.00,214.42 L460.50,214.49 L461.00,213.66 L461.50,212.46 L462.00,207.50 L462.50,207.50 L463.00,207.50 L463.50,207.50 L464.00,207.50 L464.50,207.50 L465.00,207.50 L465.50,207.50 L466.00,207.50 L466.50,207.50 L467.00,207.50 L467.50,207.50 L468.00,212.36 L468.50,214.16 L469.00,217.44 L469.50,217.90 L470.00,218.93 L470.50,219.21 L471.00,218.49 L471.50,220.89 L472.00,221.18 L472.50,215.30 L473.00,216.05 L473.50,220.73 L474.00,221.46 L474.50,221.08 L475.00,222.62 L475.50,221.71 L476.00,218.31 L476.50,220.32 L477.00,222.16 L477.50,217.33 L478.00,217.75 L478.50,218.53 L479.00,222.54 L479.50,219.07 L480.00,222.61 L480.50,222.84 L481.00,222.05 L481.50,223.93 L482.00,221.21 L482.50,220.78 L483.00,217.67 L483.50,222.06 L484.00,221.24 L484.50,218.84 L485.00,221.17 L485.50,218.44 L486.00,217.34 L486.50,218.10 L487.00,221.44 L487.50,217.30 L488.00,216.46 L488.50,220.12 L489.00,217.46 L489.50,216.95 L490.00,221.15 L490.50,220.56 L491.00,218.36 L491.50,228.66 L492.00,222.73 L492.50,217.09 L493.00,218.92 L493.50,221.01 L494.00,217.99 L494.50,217.48 L495.00,220.81 L495.50,221.15 L496.00,222.03 L496.50,225.75 L497.00,221.03 L497.50,220.38 L498.00,218.30 L498.50,217.22 L499.00,224.55 L499.50,219.96 L500.00,217.84 L500.50,215.09 L501.00,216.00 L501.50,227.73 L502.00,220.78 L502.50,215.30 L503.00,218.73 L503.50,215.50 L504.00,215.08 L504.50,222.26 L505.00,214.40 L505.50,213.22 L506.00,218.68 L506.50,218.10 L507.00,219.77 L507.50,218.98 L508.00,219.09 L508.50,216.10 L509.00,216.00 L509.50,216.92 L510.00,213.46 L510.50,217.14 L511.00,219.03 L511.50,216.61 L512.00,215.08 L512.50,212.26 L513.00,215.69 L513.50,216.81 L514.00,219.56 L514.50,219.11 L515.00,214.29 L515.50,224.84 L516.00,215.35 L516.50,216.24 L517.00,214.46 L517.50,217.46 L518.00,216.30 L518.50,214.40 L519.00,216.59 L519.50,213.40 L520.00,213.94 L520.50,217.29 L521.00,216.02 L521.50,217.24 L522.00,216.29 L522.50,213.06 L523.00,213.84 L523.50,210.62 L524.00,207.50 L537.50,207.50" stroke="#3a8be6" fill="none" stroke-width="0.95" stroke-linejoin="round"/>
<path d="M430.20,199.50 L431.00,189.50 L431.80,199.50" stroke="#3a8be6" fill="none" stroke-width="1.15" />
<path d="M446.20,199.50 L447.00,190.50 L447.80,199.50" stroke="#3a8be6" fill="none" stroke-width="1.15" />
<path d="M482.20,199.50 L483.00,165.50 L483.80,199.50" stroke="#3a8be6" fill="none" stroke-width="1.15" />
<path d="M489.20,199.50 L490.00,165.50 L490.80,199.50" stroke="#3a8be6" fill="none" stroke-width="1.15" />
<path d="M499.20,199.50 L500.00,180.50 L500.80,199.50" stroke="#3a8be6" fill="none" stroke-width="1.15" />
<path d="M509.20,199.50 L510.00,153.50 L510.80,199.50" stroke="#3a8be6" fill="none" stroke-width="1.15" />
<path d="M513.20,199.50 L514.00,169.50 L514.80,199.50" stroke="#3a8be6" fill="none" stroke-width="1.15" />
<path d="M435.20,215.50 L436.00,240.50 L436.80,215.50" stroke="#3a8be6" fill="none" stroke-width="1.15" />
<path d="M425.20,215.50 L426.00,225.50 L426.80,215.50" stroke="#3a8be6" fill="none" stroke-width="1.15" />
<path d="M449.20,215.50 L450.00,225.50 L450.80,215.50" stroke="#3a8be6" fill="none" stroke-width="1.15" />
<path d="M479.00,215.50 L479.80,262.50 L480.60,215.50" stroke="#3a8be6" fill="none" stroke-width="1.15" />
<path d="M481.20,215.50 L482.00,262.50 L482.80,215.50" stroke="#3a8be6" fill="none" stroke-width="1.15" />
<path d="M489.20,215.50 L490.00,242.50 L490.80,215.50" stroke="#3a8be6" fill="none" stroke-width="1.15" />
<path d="M510.60,215.50 L511.40,231.50 L512.20,215.50" stroke="#3a8be6" fill="none" stroke-width="1.15" />
<path d="M517.40,215.50 L518.20,237.50 L519.00,215.50" stroke="#3a8be6" fill="none" stroke-width="1.15" />
<path d="M401.80,207.50 L421.00,207.50 L421.50,202.50 L422.00,200.09 L422.50,198.12 L423.00,200.15 L423.50,203.83 L424.00,200.47 L424.50,200.14 L425.00,202.47 L425.50,202.79 L426.00,203.44 L426.50,199.69 L427.00,202.74 L427.50,204.82 L428.00,200.63 L428.50,199.80 L429.00,193.85 L429.50,193.87 L430.00,197.19 L430.50,200.62 L431.00,199.62 L431.50,203.09 L432.00,202.79 L432.50,202.82 L433.00,200.76 L433.50,200.90 L434.00,199.39 L434.50,194.99 L435.00,197.84 L435.50,202.39 L436.00,202.85 L436.50,199.37 L437.00,200.78 L437.50,201.84 L438.00,201.55 L438.50,199.97 L439.00,199.47 L439.50,201.49 L440.00,200.05 L440.50,200.18 L441.00,202.38 L441.50,201.03 L442.00,200.10 L442.50,199.13 L443.00,200.59 L443.50,199.00 L444.00,199.48 L444.50,199.98 L445.00,200.32 L445.50,201.45 L446.00,196.32 L446.50,201.74 L447.00,204.25 L447.50,202.09 L448.00,202.96 L448.50,196.51 L449.00,200.70 L449.50,201.75 L450.00,203.61 L450.50,200.11 L451.00,203.93 L451.50,204.39 L452.00,203.02 L452.50,202.81 L453.00,203.36 L453.50,203.25 L454.00,202.42 L454.50,203.07 L455.00,203.40 L455.50,203.55 L456.00,201.93 L456.50,200.73 L457.00,201.32 L457.50,201.86 L458.00,204.30 L458.50,200.95 L459.00,201.94 L459.50,202.03 L460.00,200.36 L460.50,203.60 L461.00,203.58 L461.50,207.50 L462.00,207.50 L462.50,207.50 L463.00,207.50 L463.50,207.50 L464.00,207.50 L464.50,207.50 L465.00,207.50 L465.50,207.50 L466.00,207.50 L466.50,207.50 L467.00,207.50 L467.50,207.50 L468.00,201.34 L468.50,196.47 L469.00,194.89 L469.50,192.80 L470.00,198.35 L470.50,200.98 L471.00,197.74 L471.50,201.43 L472.00,202.47 L472.50,202.00 L473.00,198.81 L473.50,196.06 L474.00,193.50 L474.50,195.17 L475.00,198.93 L475.50,199.76 L476.00,196.36 L476.50,198.29 L477.00,187.49 L477.50,190.06 L478.00,190.80 L478.50,193.46 L479.00,194.46 L479.50,193.26 L480.00,192.68 L480.50,193.25 L481.00,198.84 L481.50,201.21 L482.00,198.46 L482.50,199.61 L483.00,200.07 L483.50,199.13 L484.00,198.16 L484.50,197.02 L485.00,198.01 L485.50,189.68 L486.00,190.44 L486.50,195.79 L487.00,198.01 L487.50,197.33 L488.00,194.56 L488.50,192.14 L489.00,198.17 L489.50,200.44 L490.00,201.17 L490.50,187.06 L491.00,193.77 L491.50,198.43 L492.00,194.55 L492.50,195.81 L493.00,194.57 L493.50,193.47 L494.00,198.51 L494.50,200.00 L495.00,198.28 L495.50,190.50 L496.00,197.70 L496.50,196.70 L497.00,196.26 L497.50,193.38 L498.00,193.43 L498.50,198.50 L499.00,201.31 L499.50,201.76 L500.00,198.02 L500.50,188.71 L501.00,197.91 L501.50,198.17 L502.00,199.40 L502.50,198.85 L503.00,194.50 L503.50,197.45 L504.00,198.01 L504.50,200.04 L505.00,196.81 L505.50,193.85 L506.00,197.62 L506.50,202.34 L507.00,196.53 L507.50,196.28 L508.00,189.19 L508.50,196.21 L509.00,198.74 L509.50,194.79 L510.00,195.91 L510.50,196.95 L511.00,201.86 L511.50,197.75 L512.00,200.36 L512.50,198.00 L513.00,195.87 L513.50,197.73 L514.00,198.18 L514.50,201.47 L515.00,198.98 L515.50,198.62 L516.00,201.38 L516.50,196.81 L517.00,200.69 L517.50,196.78 L518.00,198.18 L518.50,198.08 L519.00,198.42 L519.50,198.31 L520.00,202.83 L520.50,202.33 L521.00,203.03 L521.50,204.36 L522.00,204.57 L522.50,201.52 L523.00,200.00 L523.50,203.63 L524.00,207.50 L537.50,207.50" stroke="#f26464" fill="none" stroke-width="0.9" stroke-linejoin="round"/>
<path d="M401.80,207.50 L421.00,207.50 L421.50,212.44 L422.00,210.41 L422.50,213.93 L423.00,213.54 L423.50,212.14 L424.00,214.07 L424.50,210.79 L425.00,214.43 L425.50,213.69 L426.00,214.14 L426.50,212.75 L427.00,211.97 L427.50,211.87 L428.00,211.73 L428.50,218.19 L429.00,214.19 L429.50,215.50 L430.00,215.89 L430.50,215.29 L431.00,220.01 L431.50,215.98 L432.00,214.27 L432.50,211.34 L433.00,218.75 L433.50,213.75 L434.00,212.90 L434.50,214.53 L435.00,214.15 L435.50,211.68 L436.00,214.81 L436.50,213.59 L437.00,212.76 L437.50,215.02 L438.00,211.66 L438.50,211.88 L439.00,213.38 L439.50,212.09 L440.00,211.70 L440.50,210.03 L441.00,211.78 L441.50,211.84 L442.00,211.87 L442.50,214.70 L443.00,211.95 L443.50,213.45 L444.00,214.36 L444.50,213.98 L445.00,210.93 L445.50,210.88 L446.00,210.89 L446.50,210.67 L447.00,211.54 L447.50,216.80 L448.00,212.39 L448.50,210.74 L449.00,214.04 L449.50,213.84 L450.00,213.43 L450.50,212.33 L451.00,212.88 L451.50,214.44 L452.00,212.39 L452.50,214.33 L453.00,213.25 L453.50,212.85 L454.00,213.25 L454.50,217.45 L455.00,215.50 L455.50,215.64 L456.00,214.28 L456.50,214.27 L457.00,212.31 L457.50,213.49 L458.00,212.71 L458.50,210.39 L459.00,212.64 L459.50,212.09 L460.00,211.51 L460.50,212.94 L461.00,214.28 L461.50,213.02 L462.00,207.50 L462.50,207.50 L463.00,207.50 L463.50,207.50 L464.00,207.50 L464.50,207.50 L465.00,207.50 L465.50,207.50 L466.00,207.50 L466.50,207.50 L467.00,207.50 L467.50,207.50 L468.00,210.24 L468.50,211.99 L469.00,210.98 L469.50,224.00 L470.00,222.48 L470.50,221.83 L471.00,216.24 L471.50,216.10 L472.00,218.74 L472.50,216.78 L473.00,216.67 L473.50,218.56 L474.00,219.28 L474.50,220.52 L475.00,218.52 L475.50,219.87 L476.00,216.79 L476.50,218.29 L477.00,215.69 L477.50,216.15 L478.00,220.59 L478.50,218.01 L479.00,218.30 L479.50,221.50 L480.00,221.17 L480.50,227.47 L481.00,222.39 L481.50,223.55 L482.00,217.98 L482.50,218.31 L483.00,217.58 L483.50,230.10 L484.00,224.69 L484.50,218.51 L485.00,220.88 L485.50,216.83 L486.00,217.26 L486.50,220.29 L487.00,222.83 L487.50,216.84 L488.00,215.12 L488.50,216.88 L489.00,218.49 L489.50,215.73 L490.00,217.47 L490.50,216.41 L491.00,215.28 L491.50,220.67 L492.00,216.19 L492.50,217.34 L493.00,217.25 L493.50,215.81 L494.00,220.07 L494.50,217.65 L495.00,216.71 L495.50,216.59 L496.00,216.66 L496.50,219.01 L497.00,220.89 L497.50,220.70 L498.00,216.28 L498.50,218.80 L499.00,224.28 L499.50,222.81 L500.00,219.04 L500.50,220.63 L501.00,215.99 L501.50,219.21 L502.00,217.69 L502.50,220.75 L503.00,214.99 L503.50,225.09 L504.00,218.85 L504.50,217.98 L505.00,215.83 L505.50,219.11 L506.00,220.07 L506.50,214.21 L507.00,218.00 L507.50,217.91 L508.00,217.55 L508.50,212.52 L509.00,216.51 L509.50,219.55 L510.00,219.62 L510.50,217.46 L511.00,215.33 L511.50,214.14 L512.00,211.65 L512.50,217.37 L513.00,217.18 L513.50,214.12 L514.00,210.84 L514.50,216.93 L515.00,212.83 L515.50,213.58 L516.00,212.96 L516.50,215.54 L517.00,215.90 L517.50,214.87 L518.00,213.58 L518.50,220.44 L519.00,214.52 L519.50,216.27 L520.00,217.87 L520.50,216.76 L521.00,217.28 L521.50,212.84 L522.00,210.85 L522.50,213.83 L523.00,213.66 L523.50,210.69 L524.00,207.50 L537.50,207.50" stroke="#f26464" fill="none" stroke-width="0.9" stroke-linejoin="round"/>
<path d="M420.80,199.50 L421.60,185.50 L422.40,199.50" stroke="#f26464" fill="none" stroke-width="1.1" />
<path d="M427.20,199.50 L428.00,189.50 L428.80,199.50" stroke="#f26464" fill="none" stroke-width="1.1" />
<path d="M451.20,199.50 L452.00,191.50 L452.80,199.50" stroke="#f26464" fill="none" stroke-width="1.1" />
<path d="M467.95,199.50 L468.75,172.50 L469.55,199.50" stroke="#f26464" fill="none" stroke-width="1.1" />
<path d="M485.20,199.50 L486.00,160.50 L486.80,199.50" stroke="#f26464" fill="none" stroke-width="1.1" />
<path d="M488.20,199.50 L489.00,155.50 L489.80,199.50" stroke="#f26464" fill="none" stroke-width="1.1" />
<path d="M490.70,199.50 L491.50,153.50 L492.30,199.50" stroke="#f26464" fill="none" stroke-width="1.1" />
<path d="M496.20,199.50 L497.00,172.50 L497.80,199.50" stroke="#f26464" fill="none" stroke-width="1.1" />
<path d="M516.20,199.50 L517.00,163.50 L517.80,199.50" stroke="#f26464" fill="none" stroke-width="1.1" />
<path d="M520.20,199.50 L521.00,177.50 L521.80,199.50" stroke="#f26464" fill="none" stroke-width="1.1" />
<path d="M421.00,215.50 L421.80,235.50 L422.60,215.50" stroke="#f26464" fill="none" stroke-width="1.1" />
<path d="M444.20,215.50 L445.00,227.50 L445.80,215.50" stroke="#f26464" fill="none" stroke-width="1.1" />
<path d="M454.90,215.50 L455.70,229.50 L456.50,215.50" stroke="#f26464" fill="none" stroke-width="1.1" />
<path d="M470.00,215.50 L470.80,229.50 L471.60,215.50" stroke="#f26464" fill="none" stroke-width="1.1" />
<path d="M476.80,215.50 L477.60,262.50 L478.40,215.50" stroke="#f26464" fill="none" stroke-width="1.1" />
<path d="M477.90,215.50 L478.70,262.50 L479.50,215.50" stroke="#f26464" fill="none" stroke-width="1.1" />
<path d="M485.20,215.50 L486.00,237.50 L486.80,215.50" stroke="#f26464" fill="none" stroke-width="1.1" />
<path d="M493.70,215.50 L494.50,250.50 L495.30,215.50" stroke="#f26464" fill="none" stroke-width="1.1" />
<path d="M515.70,215.50 L516.50,262.50 L517.30,215.50" stroke="#f26464" fill="none" stroke-width="1.1" />
<line x1="475" y1="153.5" x2="475" y2="261.5" stroke="#f26464" stroke-width="1.1" />
<line x1="479" y1="153.5" x2="479" y2="261.5" stroke="#3a8be6" stroke-width="1.1" />
<line x1="517" y1="153.5" x2="517" y2="261.5" stroke="#f26464" stroke-width="1.1" />
<line x1="510.2" y1="153.5" x2="510.2" y2="202" stroke="#3a8be6" stroke-width="1.0" />
<line x1="519.8" y1="190" x2="519.8" y2="244" stroke="#3a8be6" stroke-width="1.0" />
<line x1="492.4" y1="153" x2="492.4" y2="262" stroke="#333" stroke-width="0.9" stroke-dasharray="2.5,1.5"/>
<rect x="461" y="155.5" width="14" height="6" fill="#fff"/>
<rect x="497.5" y="154.5" width="16" height="6" fill="#fff"/>
<rect x="460.5" y="252.5" width="14.5" height="6" fill="#fff"/>
<rect x="494" y="255.5" width="17" height="6" fill="#fff"/>
<text x="462" y="161" font-size="4.8" text-anchor="start" font-weight="bold" fill="#f05050" stroke="#f05050" stroke-width="0.32" textLength="13.5" lengthAdjust="spacingAndGlyphs" >-1.705</text>
<text x="498" y="160" font-size="4.8" text-anchor="start" font-weight="bold" fill="#2a7ad8" stroke="#2a7ad8" stroke-width="0.32" textLength="15" lengthAdjust="spacingAndGlyphs" >-1.617</text>
<line x1="478" y1="162" x2="496.5" y2="157.5" stroke="#2a7ad8" stroke-width="0.6" />
<text x="461" y="258" font-size="4.8" text-anchor="start" font-weight="bold" fill="#f05050" stroke="#f05050" stroke-width="0.32" textLength="13.5" lengthAdjust="spacingAndGlyphs" >-1.632</text>
<text x="494.5" y="261" font-size="4.8" text-anchor="start" font-weight="bold" fill="#2a7ad8" stroke="#2a7ad8" stroke-width="0.32" textLength="16" lengthAdjust="spacingAndGlyphs" >-1.432</text>
<line x1="479.8" y1="252" x2="492.2" y2="256.4" stroke="#2a7ad8" stroke-width="0.6" />
</svg></body></html>
